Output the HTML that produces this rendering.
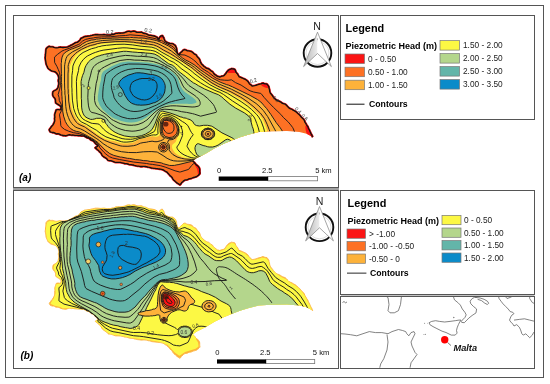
<!DOCTYPE html>
<html><head><meta charset="utf-8"><style>
html,body{margin:0;padding:0;background:#fff;width:550px;height:384px;overflow:hidden}
svg{display:block}
text{font-family:"Liberation Sans",Arial,sans-serif}
</style></head><body>
<svg width="550" height="384" viewBox="0 0 550 384">
<rect width="550" height="384" fill="#fff"/>
<rect x="5.5" y="5.5" width="538" height="372" fill="none" stroke="#555" stroke-width="1"/>
<rect x="13" y="188" width="326" height="2" fill="#a0a0a0"/>
<rect x="340.5" y="15.5" width="194.0" height="104.0" fill="#fff" stroke="#555" stroke-width="1"/>
<text x="345.5" y="32.3" font-size="10.9" font-weight="bold">Legend</text>
<text x="345.5" y="48.6" font-size="9" font-weight="bold">Piezometric Head (m)</text>
<rect x="345" y="54" width="19.5" height="9.5" fill="#fb1414" stroke="#777" stroke-width="0.7"/>
<text x="368" y="61.5" font-size="8.3" fill="#222">0 - 0.50</text>
<rect x="345" y="67.2" width="19.5" height="9.5" fill="#fd7124" stroke="#777" stroke-width="0.7"/>
<text x="368" y="74.7" font-size="8.3" fill="#222">0.50 - 1.00</text>
<rect x="345" y="80.2" width="19.5" height="9.5" fill="#fdb23a" stroke="#777" stroke-width="0.7"/>
<text x="368" y="87.7" font-size="8.3" fill="#222">1.00 - 1.50</text>
<rect x="440" y="40.6" width="19.5" height="9.5" fill="#fcf844" stroke="#777" stroke-width="0.7"/>
<text x="463" y="48.1" font-size="8.3" fill="#222">1.50 - 2.00</text>
<rect x="440" y="53.6" width="19.5" height="9.5" fill="#b4d68c" stroke="#777" stroke-width="0.7"/>
<text x="463" y="61.1" font-size="8.3" fill="#222">2.00 - 2.50</text>
<rect x="440" y="66.6" width="19.5" height="9.5" fill="#63b5a9" stroke="#777" stroke-width="0.7"/>
<text x="463" y="74.1" font-size="8.3" fill="#222">2.50 - 3.00</text>
<rect x="440" y="79.6" width="19.5" height="9.5" fill="#0b8bc9" stroke="#777" stroke-width="0.7"/>
<text x="463" y="87.1" font-size="8.3" fill="#222">3.00 - 3.50</text>
<line x1="346.4" y1="104.2" x2="364.5" y2="104.2" stroke="#111" stroke-width="1"/>
<text x="369" y="107.3" font-size="8.7" font-weight="bold">Contours</text>
<rect x="340.5" y="190.5" width="194.0" height="104.0" fill="#fff" stroke="#555" stroke-width="1"/>
<text x="347.6" y="207.3" font-size="10.9" font-weight="bold">Legend</text>
<text x="347.6" y="223.6" font-size="9" font-weight="bold">Piezometric Head (m)</text>
<rect x="347" y="229" width="18.5" height="9.3" fill="#fb1414" stroke="#777" stroke-width="0.7"/>
<text x="369" y="236.5" font-size="8.3" fill="#222">&gt; -1.00</text>
<rect x="347" y="241.5" width="18.5" height="9.3" fill="#fd7124" stroke="#777" stroke-width="0.7"/>
<text x="369" y="249.0" font-size="8.3" fill="#222">-1.00 - -0.50</text>
<rect x="347" y="254" width="18.5" height="9.3" fill="#fdb23a" stroke="#777" stroke-width="0.7"/>
<text x="369" y="261.5" font-size="8.3" fill="#222">-0.50 - 0</text>
<rect x="442" y="215.4" width="19" height="9.3" fill="#fcf844" stroke="#777" stroke-width="0.7"/>
<text x="464" y="222.9" font-size="8.3" fill="#222">0 - 0.50</text>
<rect x="442" y="228" width="19" height="9.3" fill="#b4d68c" stroke="#777" stroke-width="0.7"/>
<text x="464" y="235.5" font-size="8.3" fill="#222">0.50 - 1.00</text>
<rect x="442" y="240.6" width="19" height="9.3" fill="#63b5a9" stroke="#777" stroke-width="0.7"/>
<text x="464" y="248.1" font-size="8.3" fill="#222">1.00 - 1.50</text>
<rect x="442" y="253" width="19" height="9.3" fill="#0b8bc9" stroke="#777" stroke-width="0.7"/>
<text x="464" y="260.5" font-size="8.3" fill="#222">1.50 - 2.00</text>
<line x1="347" y1="273.2" x2="366.4" y2="273.2" stroke="#777" stroke-width="1.6"/>
<text x="370" y="275.9" font-size="8.7" font-weight="bold">Contours</text>
<rect x="340.5" y="296.5" width="194" height="72" fill="#fff" stroke="#555" stroke-width="1"/>
<rect x="341" y="295" width="193.5" height="1" fill="#c4c4c4"/>
<rect x="13.5" y="15.5" width="325" height="172" fill="#fff" stroke="#555" stroke-width="1"/>
<rect x="13.5" y="190.5" width="325" height="178" fill="#fff" stroke="#555" stroke-width="1"/>
<path d="M192.8,161.0 193.6,161.8 194.4,162.5 195.1,163.4 195.7,164.3 196.5,165.1 197.5,165.7 198.3,166.5 198.9,167.4 199.5,168.4 199.7,169.5 199.7,170.7 199.7,171.8 199.9,172.9 199.8,173.8 199.0,174.6 198.2,175.4 197.3,176.0 196.4,176.7 195.3,177.0 194.2,177.3 193.2,177.5 192.1,178.0 191.1,178.5 190.0,178.6 188.9,178.8 187.9,179.4 186.9,179.8 185.8,179.9 184.7,180.2 183.7,180.8 182.9,181.6 182.0,182.2 181.3,183.1 180.7,184.1 179.9,184.8 178.9,184.1 178.0,183.5 177.0,182.9 176.2,182.2 175.4,181.5 174.6,180.7 173.7,180.0 173.0,179.1 172.5,178.2 171.9,177.2 171.1,176.4 170.2,175.8 169.5,174.9 168.8,174.1 168.0,173.3 167.3,172.4 166.5,171.8 165.5,171.3 164.6,170.7 163.7,170.1 162.7,169.6 161.6,169.3 160.5,169.1 159.4,169.0 158.3,168.9 157.2,168.7 156.1,168.6 155.0,168.4 153.9,168.3 152.8,168.2 151.7,168.1 150.7,167.7 149.6,167.3 148.5,167.2 147.5,167.0 146.4,166.6 145.3,166.5 144.2,166.4 143.1,166.4 142.0,166.5 140.8,166.5 139.8,166.3 138.7,166.2 137.6,166.1 136.5,165.9 135.4,165.6 134.3,165.4 133.3,165.0 132.2,164.8 131.1,164.7 130.0,164.6 128.9,164.4 127.9,164.0 126.8,163.7 125.7,163.6 124.6,163.5 123.5,163.1 122.4,162.9 121.4,162.7 120.3,162.4 119.2,162.4 118.1,162.3 117.0,162.3 115.8,162.3 114.8,162.1 113.7,161.7 112.7,161.3 111.7,160.9 110.6,160.7 109.5,160.6 108.3,160.4 107.5,159.7 106.8,158.7 106.0,158.1 105.0,157.5 104.0,156.9 103.1,156.2 102.3,155.5 101.8,154.5 101.3,153.4 100.6,152.6 99.7,151.9 99.0,151.1 98.3,150.3 97.4,149.7 96.7,148.9 95.7,148.3 95.2,147.8 96.1,147.1 97.1,146.6 98.2,145.8 97.3,144.9 96.4,144.2 95.6,143.6 94.9,142.7 94.2,141.8 93.4,141.0 92.4,140.5 91.3,140.1 90.4,139.5 89.6,138.6 88.7,138.0 87.6,137.9 86.5,137.4 85.6,136.8 84.7,136.3 83.6,135.8 82.5,135.9 81.4,135.8 80.4,135.6 79.3,135.6 78.2,135.5 77.1,135.4 76.0,135.3 74.9,135.3 73.8,135.1 72.7,135.0 71.6,135.1 70.5,134.9 69.4,134.7 68.3,134.9 67.2,135.3 66.1,135.7 65.0,135.7 63.9,135.5 62.9,135.5 62.0,135.2 60.9,134.9 59.9,134.4 58.9,133.9 57.8,133.7 56.6,133.8 55.6,133.5 54.6,132.9 53.5,132.5 52.4,132.5 51.3,132.2 50.3,131.8 49.7,130.9 49.3,129.8 49.8,128.9 50.5,128.1 51.1,127.2 51.7,126.3 52.6,125.5 53.2,124.6 53.7,123.6 54.2,122.6 54.6,121.6 54.8,120.5 54.7,119.3 54.6,118.3 54.9,117.2 54.8,116.1 54.7,115.0 54.9,113.9 55.3,112.8 55.7,111.8 55.9,110.8 56.4,109.8 57.6,109.6 58.7,109.6 59.8,109.8 60.9,109.6 60.9,108.5 61.2,107.6 60.8,106.7 60.2,105.8 59.5,105.3 58.5,104.7 57.6,104.2 56.7,103.5 55.8,102.9 55.6,102.0 55.6,100.9 55.5,99.8 55.2,98.9 54.7,98.0 53.9,97.2 53.3,96.3 52.8,95.2 52.7,94.1 52.8,92.9 53.0,91.8 53.9,91.0 54.9,90.5 55.9,90.0 56.8,89.3 57.5,88.5 58.1,87.5 58.3,86.4 58.5,85.4 58.8,84.4 58.8,83.3 58.7,82.2 58.4,81.1 58.4,80.0 58.8,78.9 58.8,77.8 58.6,76.7 58.3,75.6 57.8,74.7 57.2,73.8 56.5,73.0 55.7,72.2 54.7,71.7 53.7,71.3 52.7,71.1 51.6,70.8 50.6,70.3 49.7,69.5 48.8,69.0 48.0,68.1 47.5,67.1 47.2,66.2 46.7,65.2 46.3,64.2 46.0,63.1 45.9,62.1 45.7,61.0 45.5,59.9 45.4,58.8 45.2,57.7 45.4,56.6 45.5,55.5 45.5,54.4 45.7,53.3 45.8,52.2 45.9,51.1 45.9,50.0 46.2,48.9 46.7,48.1 47.5,47.6 48.4,46.7 49.4,46.5 50.5,46.9 51.6,46.9 52.7,46.9 53.8,47.3 54.8,47.6 55.9,47.8 57.0,47.8 58.1,47.6 59.2,47.3 60.3,47.2 61.4,47.4 62.5,47.5 63.6,47.5 64.7,47.4 65.8,47.3 66.9,47.2 68.0,46.9 69.0,46.3 70.0,45.8 70.9,45.3 72.0,44.8 72.9,44.3 73.9,43.7 74.8,43.1 75.8,42.6 76.9,42.4 77.9,42.0 78.8,41.2 79.6,40.5 80.3,39.6 80.8,38.6 81.8,38.0 82.8,37.6 83.7,37.1 84.7,36.6 85.8,36.5 86.9,36.4 88.0,36.2 89.1,36.1 90.2,35.9 91.2,35.6 92.3,35.4 93.4,35.1 94.5,34.9 95.6,34.7 96.7,34.7 97.8,34.7 98.9,34.8 100.0,34.9 101.1,34.9 102.2,34.8 103.3,34.7 104.4,34.7 105.5,34.9 106.6,35.1 107.7,35.2 108.8,35.1 109.9,35.2 111.0,35.0 112.0,34.5 113.1,34.5 114.2,34.3 115.2,33.6 116.2,33.3 117.4,33.3 118.5,33.1 119.6,33.2 120.7,33.2 121.8,33.1 122.9,33.0 124.0,32.8 125.1,32.5 126.1,32.0 127.1,31.6 128.2,31.4 129.3,31.3 130.3,31.7 131.4,31.7 132.6,31.3 133.7,31.2 134.8,31.4 135.8,31.8 136.9,32.3 138.0,32.4 139.1,32.4 140.2,32.3 141.3,32.2 142.4,32.7 143.4,33.3 144.4,33.5 145.5,33.7 146.6,34.0 147.5,34.6 148.6,35.0 149.6,35.3 150.7,35.4 151.8,35.6 152.9,35.8 154.0,36.0 155.0,36.4 156.0,36.8 157.1,37.3 157.7,38.2 158.3,39.2 159.0,39.4 159.3,38.3 159.8,37.3 160.4,36.4 161.3,35.9 162.4,35.7 163.0,36.7 163.7,37.6 164.0,38.7 164.4,39.7 164.7,40.8 165.5,41.5 166.5,42.1 167.4,42.6 168.5,43.0 169.5,43.4 170.6,43.6 171.8,43.6 172.9,43.8 173.8,44.5 174.7,45.1 175.5,45.9 175.9,46.9 176.4,47.9 176.6,49.0 176.7,50.1 176.9,51.2 177.1,52.3 177.5,53.4 178.2,54.2 178.9,54.7 179.6,53.9 180.3,53.0 181.1,52.3 182.0,51.6 182.7,50.8 183.4,50.1 184.5,49.7 185.5,49.8 186.4,50.4 187.5,50.8 188.6,50.9 189.7,51.1 190.8,51.3 191.8,51.8 192.7,52.5 193.5,53.3 194.3,54.1 195.4,54.5 196.3,55.1 196.8,56.1 197.5,57.0 198.2,57.8 199.0,58.6 199.6,59.6 200.0,60.6 200.3,61.7 200.7,62.7 201.3,63.7 202.1,64.5 202.9,65.3 203.6,66.1 204.5,66.8 205.4,67.4 206.3,68.1 207.3,68.5 208.4,68.7 209.3,69.4 210.1,70.1 210.9,70.8 211.9,71.3 212.8,72.0 213.4,73.0 214.0,73.9 214.9,74.6 215.9,75.2 216.7,75.9 217.6,76.5 218.7,76.7 219.7,77.0 220.8,76.6 221.8,76.2 222.9,76.1 223.9,75.7 224.6,75.1 225.2,74.2 226.0,73.4 226.5,72.4 227.2,71.5 227.9,70.8 228.6,70.0 229.6,69.5 230.7,69.1 231.6,68.7 232.6,68.9 233.7,69.0 234.7,69.3 235.3,70.3 235.6,71.4 236.1,72.4 236.8,73.2 237.6,74.1 238.1,75.1 238.6,76.0 239.2,76.9 240.1,77.2 241.2,77.6 242.2,78.0 243.2,78.5 244.2,78.9 245.2,79.4 246.2,80.0 247.1,80.7 247.9,81.4 248.5,82.3 249.1,83.4 249.8,84.2 250.7,84.8 251.5,85.6 252.4,86.1 253.6,85.9 254.7,85.7 255.7,85.4 256.8,85.0 257.8,84.7 258.8,84.3 259.9,84.1 261.0,83.9 262.0,83.3 263.0,83.1 264.0,83.5 265.1,83.9 266.2,83.9 267.2,84.3 267.8,85.2 268.5,86.1 268.9,87.1 269.0,88.2 269.4,89.2 269.6,90.3 269.7,91.4 270.1,92.5 270.5,93.4 271.2,94.1 271.9,95.0 272.6,95.9 273.1,96.8 273.8,97.7 274.6,98.5 275.4,99.2 276.3,99.9 277.2,100.5 278.3,100.9 279.3,101.3 280.3,101.8 281.2,102.4 282.1,103.1 283.1,103.5 284.2,103.8 285.2,104.2 286.1,104.9 286.9,105.7 287.5,106.6 288.3,107.3 289.1,108.1 290.1,108.7 291.2,109.0 292.2,109.5 293.1,110.2 294.1,110.7 295.0,111.2 296.0,111.8 296.8,112.5 297.6,113.3 298.4,114.0 299.3,114.7 300.0,115.5 300.7,116.4 301.4,117.3 302.2,118.0 303.0,118.7 303.8,119.6 304.3,120.5 304.7,121.6 305.2,122.6 305.9,123.5 306.3,124.5 306.9,125.4 307.6,126.3 308.1,127.3 308.4,128.4 309.0,129.3 309.5,130.3 309.9,131.3 310.4,132.3 310.8,133.3 311.4,134.3 311.9,135.2 312.3,136.3 312.7,137.3" fill="none" stroke="#fb1414" stroke-width="2.3" stroke-linejoin="round"/>
<clipPath id="clipA"><path d="M192.8,161.0 193.6,161.8 194.4,162.5 195.1,163.4 195.7,164.3 196.5,165.1 197.5,165.7 198.3,166.5 198.9,167.4 199.5,168.4 199.7,169.5 199.7,170.7 199.7,171.8 199.9,172.9 199.8,173.8 199.0,174.6 198.2,175.4 197.3,176.0 196.4,176.7 195.3,177.0 194.2,177.3 193.2,177.5 192.1,178.0 191.1,178.5 190.0,178.6 188.9,178.8 187.9,179.4 186.9,179.8 185.8,179.9 184.7,180.2 183.7,180.8 182.9,181.6 182.0,182.2 181.3,183.1 180.7,184.1 179.9,184.8 178.9,184.1 178.0,183.5 177.0,182.9 176.2,182.2 175.4,181.5 174.6,180.7 173.7,180.0 173.0,179.1 172.5,178.2 171.9,177.2 171.1,176.4 170.2,175.8 169.5,174.9 168.8,174.1 168.0,173.3 167.3,172.4 166.5,171.8 165.5,171.3 164.6,170.7 163.7,170.1 162.7,169.6 161.6,169.3 160.5,169.1 159.4,169.0 158.3,168.9 157.2,168.7 156.1,168.6 155.0,168.4 153.9,168.3 152.8,168.2 151.7,168.1 150.7,167.7 149.6,167.3 148.5,167.2 147.5,167.0 146.4,166.6 145.3,166.5 144.2,166.4 143.1,166.4 142.0,166.5 140.8,166.5 139.8,166.3 138.7,166.2 137.6,166.1 136.5,165.9 135.4,165.6 134.3,165.4 133.3,165.0 132.2,164.8 131.1,164.7 130.0,164.6 128.9,164.4 127.9,164.0 126.8,163.7 125.7,163.6 124.6,163.5 123.5,163.1 122.4,162.9 121.4,162.7 120.3,162.4 119.2,162.4 118.1,162.3 117.0,162.3 115.8,162.3 114.8,162.1 113.7,161.7 112.7,161.3 111.7,160.9 110.6,160.7 109.5,160.6 108.3,160.4 107.5,159.7 106.8,158.7 106.0,158.1 105.0,157.5 104.0,156.9 103.1,156.2 102.3,155.5 101.8,154.5 101.3,153.4 100.6,152.6 99.7,151.9 99.0,151.1 98.3,150.3 97.4,149.7 96.7,148.9 95.7,148.3 95.2,147.8 96.1,147.1 97.1,146.6 98.2,145.8 97.3,144.9 96.4,144.2 95.6,143.6 94.9,142.7 94.2,141.8 93.4,141.0 92.4,140.5 91.3,140.1 90.4,139.5 89.6,138.6 88.7,138.0 87.6,137.9 86.5,137.4 85.6,136.8 84.7,136.3 83.6,135.8 82.5,135.9 81.4,135.8 80.4,135.6 79.3,135.6 78.2,135.5 77.1,135.4 76.0,135.3 74.9,135.3 73.8,135.1 72.7,135.0 71.6,135.1 70.5,134.9 69.4,134.7 68.3,134.9 67.2,135.3 66.1,135.7 65.0,135.7 63.9,135.5 62.9,135.5 62.0,135.2 60.9,134.9 59.9,134.4 58.9,133.9 57.8,133.7 56.6,133.8 55.6,133.5 54.6,132.9 53.5,132.5 52.4,132.5 51.3,132.2 50.3,131.8 49.7,130.9 49.3,129.8 49.8,128.9 50.5,128.1 51.1,127.2 51.7,126.3 52.6,125.5 53.2,124.6 53.7,123.6 54.2,122.6 54.6,121.6 54.8,120.5 54.7,119.3 54.6,118.3 54.9,117.2 54.8,116.1 54.7,115.0 54.9,113.9 55.3,112.8 55.7,111.8 55.9,110.8 56.4,109.8 57.6,109.6 58.7,109.6 59.8,109.8 60.9,109.6 60.9,108.5 61.2,107.6 60.8,106.7 60.2,105.8 59.5,105.3 58.5,104.7 57.6,104.2 56.7,103.5 55.8,102.9 55.6,102.0 55.6,100.9 55.5,99.8 55.2,98.9 54.7,98.0 53.9,97.2 53.3,96.3 52.8,95.2 52.7,94.1 52.8,92.9 53.0,91.8 53.9,91.0 54.9,90.5 55.9,90.0 56.8,89.3 57.5,88.5 58.1,87.5 58.3,86.4 58.5,85.4 58.8,84.4 58.8,83.3 58.7,82.2 58.4,81.1 58.4,80.0 58.8,78.9 58.8,77.8 58.6,76.7 58.3,75.6 57.8,74.7 57.2,73.8 56.5,73.0 55.7,72.2 54.7,71.7 53.7,71.3 52.7,71.1 51.6,70.8 50.6,70.3 49.7,69.5 48.8,69.0 48.0,68.1 47.5,67.1 47.2,66.2 46.7,65.2 46.3,64.2 46.0,63.1 45.9,62.1 45.7,61.0 45.5,59.9 45.4,58.8 45.2,57.7 45.4,56.6 45.5,55.5 45.5,54.4 45.7,53.3 45.8,52.2 45.9,51.1 45.9,50.0 46.2,48.9 46.7,48.1 47.5,47.6 48.4,46.7 49.4,46.5 50.5,46.9 51.6,46.9 52.7,46.9 53.8,47.3 54.8,47.6 55.9,47.8 57.0,47.8 58.1,47.6 59.2,47.3 60.3,47.2 61.4,47.4 62.5,47.5 63.6,47.5 64.7,47.4 65.8,47.3 66.9,47.2 68.0,46.9 69.0,46.3 70.0,45.8 70.9,45.3 72.0,44.8 72.9,44.3 73.9,43.7 74.8,43.1 75.8,42.6 76.9,42.4 77.9,42.0 78.8,41.2 79.6,40.5 80.3,39.6 80.8,38.6 81.8,38.0 82.8,37.6 83.7,37.1 84.7,36.6 85.8,36.5 86.9,36.4 88.0,36.2 89.1,36.1 90.2,35.9 91.2,35.6 92.3,35.4 93.4,35.1 94.5,34.9 95.6,34.7 96.7,34.7 97.8,34.7 98.9,34.8 100.0,34.9 101.1,34.9 102.2,34.8 103.3,34.7 104.4,34.7 105.5,34.9 106.6,35.1 107.7,35.2 108.8,35.1 109.9,35.2 111.0,35.0 112.0,34.5 113.1,34.5 114.2,34.3 115.2,33.6 116.2,33.3 117.4,33.3 118.5,33.1 119.6,33.2 120.7,33.2 121.8,33.1 122.9,33.0 124.0,32.8 125.1,32.5 126.1,32.0 127.1,31.6 128.2,31.4 129.3,31.3 130.3,31.7 131.4,31.7 132.6,31.3 133.7,31.2 134.8,31.4 135.8,31.8 136.9,32.3 138.0,32.4 139.1,32.4 140.2,32.3 141.3,32.2 142.4,32.7 143.4,33.3 144.4,33.5 145.5,33.7 146.6,34.0 147.5,34.6 148.6,35.0 149.6,35.3 150.7,35.4 151.8,35.6 152.9,35.8 154.0,36.0 155.0,36.4 156.0,36.8 157.1,37.3 157.7,38.2 158.3,39.2 159.0,39.4 159.3,38.3 159.8,37.3 160.4,36.4 161.3,35.9 162.4,35.7 163.0,36.7 163.7,37.6 164.0,38.7 164.4,39.7 164.7,40.8 165.5,41.5 166.5,42.1 167.4,42.6 168.5,43.0 169.5,43.4 170.6,43.6 171.8,43.6 172.9,43.8 173.8,44.5 174.7,45.1 175.5,45.9 175.9,46.9 176.4,47.9 176.6,49.0 176.7,50.1 176.9,51.2 177.1,52.3 177.5,53.4 178.2,54.2 178.9,54.7 179.6,53.9 180.3,53.0 181.1,52.3 182.0,51.6 182.7,50.8 183.4,50.1 184.5,49.7 185.5,49.8 186.4,50.4 187.5,50.8 188.6,50.9 189.7,51.1 190.8,51.3 191.8,51.8 192.7,52.5 193.5,53.3 194.3,54.1 195.4,54.5 196.3,55.1 196.8,56.1 197.5,57.0 198.2,57.8 199.0,58.6 199.6,59.6 200.0,60.6 200.3,61.7 200.7,62.7 201.3,63.7 202.1,64.5 202.9,65.3 203.6,66.1 204.5,66.8 205.4,67.4 206.3,68.1 207.3,68.5 208.4,68.7 209.3,69.4 210.1,70.1 210.9,70.8 211.9,71.3 212.8,72.0 213.4,73.0 214.0,73.9 214.9,74.6 215.9,75.2 216.7,75.9 217.6,76.5 218.7,76.7 219.7,77.0 220.8,76.6 221.8,76.2 222.9,76.1 223.9,75.7 224.6,75.1 225.2,74.2 226.0,73.4 226.5,72.4 227.2,71.5 227.9,70.8 228.6,70.0 229.6,69.5 230.7,69.1 231.6,68.7 232.6,68.9 233.7,69.0 234.7,69.3 235.3,70.3 235.6,71.4 236.1,72.4 236.8,73.2 237.6,74.1 238.1,75.1 238.6,76.0 239.2,76.9 240.1,77.2 241.2,77.6 242.2,78.0 243.2,78.5 244.2,78.9 245.2,79.4 246.2,80.0 247.1,80.7 247.9,81.4 248.5,82.3 249.1,83.4 249.8,84.2 250.7,84.8 251.5,85.6 252.4,86.1 253.6,85.9 254.7,85.7 255.7,85.4 256.8,85.0 257.8,84.7 258.8,84.3 259.9,84.1 261.0,83.9 262.0,83.3 263.0,83.1 264.0,83.5 265.1,83.9 266.2,83.9 267.2,84.3 267.8,85.2 268.5,86.1 268.9,87.1 269.0,88.2 269.4,89.2 269.6,90.3 269.7,91.4 270.1,92.5 270.5,93.4 271.2,94.1 271.9,95.0 272.6,95.9 273.1,96.8 273.8,97.7 274.6,98.5 275.4,99.2 276.3,99.9 277.2,100.5 278.3,100.9 279.3,101.3 280.3,101.8 281.2,102.4 282.1,103.1 283.1,103.5 284.2,103.8 285.2,104.2 286.1,104.9 286.9,105.7 287.5,106.6 288.3,107.3 289.1,108.1 290.1,108.7 291.2,109.0 292.2,109.5 293.1,110.2 294.1,110.7 295.0,111.2 296.0,111.8 296.8,112.5 297.6,113.3 298.4,114.0 299.3,114.7 300.0,115.5 300.7,116.4 301.4,117.3 302.2,118.0 303.0,118.7 303.8,119.6 304.3,120.5 304.7,121.6 305.2,122.6 305.9,123.5 306.3,124.5 306.9,125.4 307.6,126.3 308.1,127.3 308.4,128.4 309.0,129.3 309.5,130.3 309.9,131.3 310.4,132.3 310.8,133.3 311.4,134.3 311.9,135.2 312.3,136.3 312.7,137.3 309.0,135.0 305.6,133.4 299.4,131.9 287.0,131.0 271.0,131.2 258.8,132.0 249.0,134.5 240.0,137.3 232.9,140.0 223.8,143.7 214.6,148.2 205.5,153.7 196.4,158.3Z"/></clipPath><g clip-path="url(#clipA)">
<path d="M192.8,161.0 193.6,161.8 194.4,162.5 195.1,163.4 195.7,164.3 196.5,165.1 197.5,165.7 198.3,166.5 198.9,167.4 199.5,168.4 199.7,169.5 199.7,170.7 199.7,171.8 199.9,172.9 199.8,173.8 199.0,174.6 198.2,175.4 197.3,176.0 196.4,176.7 195.3,177.0 194.2,177.3 193.2,177.5 192.1,178.0 191.1,178.5 190.0,178.6 188.9,178.8 187.9,179.4 186.9,179.8 185.8,179.9 184.7,180.2 183.7,180.8 182.9,181.6 182.0,182.2 181.3,183.1 180.7,184.1 179.9,184.8 178.9,184.1 178.0,183.5 177.0,182.9 176.2,182.2 175.4,181.5 174.6,180.7 173.7,180.0 173.0,179.1 172.5,178.2 171.9,177.2 171.1,176.4 170.2,175.8 169.5,174.9 168.8,174.1 168.0,173.3 167.3,172.4 166.5,171.8 165.5,171.3 164.6,170.7 163.7,170.1 162.7,169.6 161.6,169.3 160.5,169.1 159.4,169.0 158.3,168.9 157.2,168.7 156.1,168.6 155.0,168.4 153.9,168.3 152.8,168.2 151.7,168.1 150.7,167.7 149.6,167.3 148.5,167.2 147.5,167.0 146.4,166.6 145.3,166.5 144.2,166.4 143.1,166.4 142.0,166.5 140.8,166.5 139.8,166.3 138.7,166.2 137.6,166.1 136.5,165.9 135.4,165.6 134.3,165.4 133.3,165.0 132.2,164.8 131.1,164.7 130.0,164.6 128.9,164.4 127.9,164.0 126.8,163.7 125.7,163.6 124.6,163.5 123.5,163.1 122.4,162.9 121.4,162.7 120.3,162.4 119.2,162.4 118.1,162.3 117.0,162.3 115.8,162.3 114.8,162.1 113.7,161.7 112.7,161.3 111.7,160.9 110.6,160.7 109.5,160.6 108.3,160.4 107.5,159.7 106.8,158.7 106.0,158.1 105.0,157.5 104.0,156.9 103.1,156.2 102.3,155.5 101.8,154.5 101.3,153.4 100.6,152.6 99.7,151.9 99.0,151.1 98.3,150.3 97.4,149.7 96.7,148.9 95.7,148.3 95.2,147.8 96.1,147.1 97.1,146.6 98.2,145.8 97.3,144.9 96.4,144.2 95.6,143.6 94.9,142.7 94.2,141.8 93.4,141.0 92.4,140.5 91.3,140.1 90.4,139.5 89.6,138.6 88.7,138.0 87.6,137.9 86.5,137.4 85.6,136.8 84.7,136.3 83.6,135.8 82.5,135.9 81.4,135.8 80.4,135.6 79.3,135.6 78.2,135.5 77.1,135.4 76.0,135.3 74.9,135.3 73.8,135.1 72.7,135.0 71.6,135.1 70.5,134.9 69.4,134.7 68.3,134.9 67.2,135.3 66.1,135.7 65.0,135.7 63.9,135.5 62.9,135.5 62.0,135.2 60.9,134.9 59.9,134.4 58.9,133.9 57.8,133.7 56.6,133.8 55.6,133.5 54.6,132.9 53.5,132.5 52.4,132.5 51.3,132.2 50.3,131.8 49.7,130.9 49.3,129.8 49.8,128.9 50.5,128.1 51.1,127.2 51.7,126.3 52.6,125.5 53.2,124.6 53.7,123.6 54.2,122.6 54.6,121.6 54.8,120.5 54.7,119.3 54.6,118.3 54.9,117.2 54.8,116.1 54.7,115.0 54.9,113.9 55.3,112.8 55.7,111.8 55.9,110.8 56.4,109.8 57.6,109.6 58.7,109.6 59.8,109.8 60.9,109.6 60.9,108.5 61.2,107.6 60.8,106.7 60.2,105.8 59.5,105.3 58.5,104.7 57.6,104.2 56.7,103.5 55.8,102.9 55.6,102.0 55.6,100.9 55.5,99.8 55.2,98.9 54.7,98.0 53.9,97.2 53.3,96.3 52.8,95.2 52.7,94.1 52.8,92.9 53.0,91.8 53.9,91.0 54.9,90.5 55.9,90.0 56.8,89.3 57.5,88.5 58.1,87.5 58.3,86.4 58.5,85.4 58.8,84.4 58.8,83.3 58.7,82.2 58.4,81.1 58.4,80.0 58.8,78.9 58.8,77.8 58.6,76.7 58.3,75.6 57.8,74.7 57.2,73.8 56.5,73.0 55.7,72.2 54.7,71.7 53.7,71.3 52.7,71.1 51.6,70.8 50.6,70.3 49.7,69.5 48.8,69.0 48.0,68.1 47.5,67.1 47.2,66.2 46.7,65.2 46.3,64.2 46.0,63.1 45.9,62.1 45.7,61.0 45.5,59.9 45.4,58.8 45.2,57.7 45.4,56.6 45.5,55.5 45.5,54.4 45.7,53.3 45.8,52.2 45.9,51.1 45.9,50.0 46.2,48.9 46.7,48.1 47.5,47.6 48.4,46.7 49.4,46.5 50.5,46.9 51.6,46.9 52.7,46.9 53.8,47.3 54.8,47.6 55.9,47.8 57.0,47.8 58.1,47.6 59.2,47.3 60.3,47.2 61.4,47.4 62.5,47.5 63.6,47.5 64.7,47.4 65.8,47.3 66.9,47.2 68.0,46.9 69.0,46.3 70.0,45.8 70.9,45.3 72.0,44.8 72.9,44.3 73.9,43.7 74.8,43.1 75.8,42.6 76.9,42.4 77.9,42.0 78.8,41.2 79.6,40.5 80.3,39.6 80.8,38.6 81.8,38.0 82.8,37.6 83.7,37.1 84.7,36.6 85.8,36.5 86.9,36.4 88.0,36.2 89.1,36.1 90.2,35.9 91.2,35.6 92.3,35.4 93.4,35.1 94.5,34.9 95.6,34.7 96.7,34.7 97.8,34.7 98.9,34.8 100.0,34.9 101.1,34.9 102.2,34.8 103.3,34.7 104.4,34.7 105.5,34.9 106.6,35.1 107.7,35.2 108.8,35.1 109.9,35.2 111.0,35.0 112.0,34.5 113.1,34.5 114.2,34.3 115.2,33.6 116.2,33.3 117.4,33.3 118.5,33.1 119.6,33.2 120.7,33.2 121.8,33.1 122.9,33.0 124.0,32.8 125.1,32.5 126.1,32.0 127.1,31.6 128.2,31.4 129.3,31.3 130.3,31.7 131.4,31.7 132.6,31.3 133.7,31.2 134.8,31.4 135.8,31.8 136.9,32.3 138.0,32.4 139.1,32.4 140.2,32.3 141.3,32.2 142.4,32.7 143.4,33.3 144.4,33.5 145.5,33.7 146.6,34.0 147.5,34.6 148.6,35.0 149.6,35.3 150.7,35.4 151.8,35.6 152.9,35.8 154.0,36.0 155.0,36.4 156.0,36.8 157.1,37.3 157.7,38.2 158.3,39.2 159.0,39.4 159.3,38.3 159.8,37.3 160.4,36.4 161.3,35.9 162.4,35.7 163.0,36.7 163.7,37.6 164.0,38.7 164.4,39.7 164.7,40.8 165.5,41.5 166.5,42.1 167.4,42.6 168.5,43.0 169.5,43.4 170.6,43.6 171.8,43.6 172.9,43.8 173.8,44.5 174.7,45.1 175.5,45.9 175.9,46.9 176.4,47.9 176.6,49.0 176.7,50.1 176.9,51.2 177.1,52.3 177.5,53.4 178.2,54.2 178.9,54.7 179.6,53.9 180.3,53.0 181.1,52.3 182.0,51.6 182.7,50.8 183.4,50.1 184.5,49.7 185.5,49.8 186.4,50.4 187.5,50.8 188.6,50.9 189.7,51.1 190.8,51.3 191.8,51.8 192.7,52.5 193.5,53.3 194.3,54.1 195.4,54.5 196.3,55.1 196.8,56.1 197.5,57.0 198.2,57.8 199.0,58.6 199.6,59.6 200.0,60.6 200.3,61.7 200.7,62.7 201.3,63.7 202.1,64.5 202.9,65.3 203.6,66.1 204.5,66.8 205.4,67.4 206.3,68.1 207.3,68.5 208.4,68.7 209.3,69.4 210.1,70.1 210.9,70.8 211.9,71.3 212.8,72.0 213.4,73.0 214.0,73.9 214.9,74.6 215.9,75.2 216.7,75.9 217.6,76.5 218.7,76.7 219.7,77.0 220.8,76.6 221.8,76.2 222.9,76.1 223.9,75.7 224.6,75.1 225.2,74.2 226.0,73.4 226.5,72.4 227.2,71.5 227.9,70.8 228.6,70.0 229.6,69.5 230.7,69.1 231.6,68.7 232.6,68.9 233.7,69.0 234.7,69.3 235.3,70.3 235.6,71.4 236.1,72.4 236.8,73.2 237.6,74.1 238.1,75.1 238.6,76.0 239.2,76.9 240.1,77.2 241.2,77.6 242.2,78.0 243.2,78.5 244.2,78.9 245.2,79.4 246.2,80.0 247.1,80.7 247.9,81.4 248.5,82.3 249.1,83.4 249.8,84.2 250.7,84.8 251.5,85.6 252.4,86.1 253.6,85.9 254.7,85.7 255.7,85.4 256.8,85.0 257.8,84.7 258.8,84.3 259.9,84.1 261.0,83.9 262.0,83.3 263.0,83.1 264.0,83.5 265.1,83.9 266.2,83.9 267.2,84.3 267.8,85.2 268.5,86.1 268.9,87.1 269.0,88.2 269.4,89.2 269.6,90.3 269.7,91.4 270.1,92.5 270.5,93.4 271.2,94.1 271.9,95.0 272.6,95.9 273.1,96.8 273.8,97.7 274.6,98.5 275.4,99.2 276.3,99.9 277.2,100.5 278.3,100.9 279.3,101.3 280.3,101.8 281.2,102.4 282.1,103.1 283.1,103.5 284.2,103.8 285.2,104.2 286.1,104.9 286.9,105.7 287.5,106.6 288.3,107.3 289.1,108.1 290.1,108.7 291.2,109.0 292.2,109.5 293.1,110.2 294.1,110.7 295.0,111.2 296.0,111.8 296.8,112.5 297.6,113.3 298.4,114.0 299.3,114.7 300.0,115.5 300.7,116.4 301.4,117.3 302.2,118.0 303.0,118.7 303.8,119.6 304.3,120.5 304.7,121.6 305.2,122.6 305.9,123.5 306.3,124.5 306.9,125.4 307.6,126.3 308.1,127.3 308.4,128.4 309.0,129.3 309.5,130.3 309.9,131.3 310.4,132.3 310.8,133.3 311.4,134.3 311.9,135.2 312.3,136.3 312.7,137.3 316.0,146.0 311.0,158.0 295.0,166.0 270.0,170.0 245.0,170.0 222.0,168.0 205.0,166.0Z" fill="#fd7124"/>
<path d="M174.6,165.4 169.4,165.4 163.6,163.8 161.4,162.9 153.1,161.6 150.4,161.5 147.4,160.8 135.4,159.6 129.4,158.4 127.4,158.3 121.6,157.1 120.4,157.1 113.8,155.4 109.8,153.6 105.2,150.1 98.1,142.7 95.6,140.8 91.4,138.1 82.4,133.3 79.4,132.0 76.4,131.4 73.5,130.4 70.6,128.6 68.6,126.6 66.8,124.1 65.4,121.6 63.6,116.1 62.7,111.1 62.3,100.9 61.8,95.1 61.7,84.6 61.4,82.6 61.4,76.6 61.6,74.9 61.4,73.4 61.2,63.6 61.5,60.1 62.1,57.1 63.2,54.6 64.4,53.1 66.8,51.4 69.2,50.1 80.1,45.8 82.4,43.9 86.6,41.5 91.2,40.1 94.1,39.8 96.4,39.1 106.1,38.3 132.1,37.5 144.9,38.3 148.1,39.0 149.9,39.1 156.6,40.6 161.4,42.4 164.4,43.9 168.7,46.1 171.9,48.2 173.4,49.4 178.4,54.8 180.9,56.6 182.6,58.1 194.1,64.7 200.8,70.1 212.6,78.2 220.1,82.1 228.4,85.1 242.1,91.5 250.1,95.4 259.0,100.6 262.0,103.1 266.6,108.5 271.0,114.6 276.2,122.6 280.3,127.9 283.5,132.9 285.0,140.1 285.3,142.4 285.2,145.9 284.2,148.1 282.4,150.0 278.4,151.7 267.9,154.1 249.9,156.4 243.6,156.9 220.9,157.7 214.9,158.4 211.4,158.4 206.6,159.1 204.1,159.2 191.6,161.4 174.6,165.4ZM170.1,137.4 172.6,137.0 174.9,135.5 176.6,133.4 177.3,131.1 177.4,129.1 176.6,126.1 175.6,124.1 173.9,122.4 171.0,120.6 167.9,119.7 165.9,119.7 164.4,120.0 163.4,120.6 163.1,121.1 162.2,124.4 162.3,131.1 162.9,133.2 163.5,134.6 165.4,136.5 169.1,137.6 170.1,137.4ZM164.6,150.4 165.6,149.7 166.5,148.6 166.8,147.4 166.5,145.9 165.9,144.9 164.6,144.0 163.4,143.8 162.1,144.1 160.9,144.9 160.3,145.9 160.0,147.1 160.2,148.4 160.9,149.4 161.9,150.2 163.1,150.6 164.6,150.4Z" fill="#fdb23a" fill-rule="evenodd"/>
<path d="M196.1,158.6 194.1,158.9 190.4,158.8 185.4,158.1 182.1,157.1 177.9,155.1 175.1,152.9 173.6,150.9 172.1,147.9 172.1,145.4 172.6,144.6 175.6,141.9 177.6,136.9 178.6,135.1 178.9,133.1 179.1,132.9 179.1,129.1 178.9,128.9 178.9,127.4 178.6,127.1 178.6,126.6 176.1,122.1 173.9,119.9 170.4,117.7 169.1,117.2 167.4,116.8 164.0,116.9 162.0,117.9 160.6,119.6 159.9,121.4 159.3,123.6 159.3,129.6 159.9,132.9 159.9,134.4 159.6,134.9 158.6,135.9 155.9,136.9 153.1,136.3 151.9,136.2 147.1,137.3 145.6,138.0 142.0,138.6 138.6,139.6 135.1,141.7 132.4,142.8 127.1,143.6 123.1,143.6 120.9,143.3 113.8,141.1 111.4,140.7 105.1,138.9 100.6,136.5 97.6,134.5 85.6,125.6 81.2,123.6 79.1,122.3 78.1,121.2 75.3,117.1 73.4,113.3 71.8,109.1 70.3,100.9 70.0,94.4 69.8,93.1 69.8,89.4 69.6,88.1 69.6,74.1 70.1,70.1 69.8,67.4 70.1,65.4 71.5,61.9 73.3,58.4 75.9,54.9 78.4,52.7 82.1,50.3 88.1,47.7 90.9,46.7 94.9,45.8 98.1,44.6 103.4,43.6 115.4,42.6 124.6,42.6 133.1,43.3 141.6,44.7 152.4,45.8 153.4,46.1 157.6,47.8 162.4,51.1 170.1,55.0 181.1,61.5 190.1,67.7 201.9,77.1 211.4,84.0 220.1,88.6 225.9,90.9 230.2,92.9 242.1,99.9 248.9,105.0 252.5,108.1 258.9,114.2 262.6,119.1 265.4,125.6 266.9,130.1 267.5,133.4 266.7,140.4 265.6,145.3 264.0,147.9 262.1,150.0 259.1,151.0 255.6,151.6 244.9,151.6 243.6,151.9 236.6,152.2 219.1,154.3 214.9,155.2 210.9,155.8 200.1,158.2 196.1,158.6ZM209.4,139.4 211.9,138.4 213.6,136.6 214.4,134.6 214.1,132.1 213.6,131.1 212.9,130.4 210.9,128.9 209.4,128.6 209.1,128.4 207.9,128.4 206.9,128.4 206.6,128.6 205.1,128.9 203.1,130.4 202.4,131.1 201.9,132.1 201.6,133.9 201.9,135.6 202.4,136.6 204.6,138.6 206.6,139.4 209.4,139.4Z" fill="#fcf844" fill-rule="evenodd"/>
<path d="M245.1,140.9 238.6,141.0 236.6,140.7 231.9,137.7 221.9,132.8 212.9,126.8 211.5,126.1 207.6,125.3 203.6,125.3 199.6,126.0 196.6,125.6 195.1,124.9 194.1,123.9 192.8,121.6 190.0,119.6 186.4,118.3 183.6,117.9 182.1,117.2 180.1,116.8 175.9,115.0 170.1,113.0 162.6,111.1 160.7,111.6 159.7,112.6 157.0,118.4 154.1,125.7 152.1,129.4 149.9,131.5 145.6,134.1 141.4,135.7 135.4,136.8 131.1,136.9 124.3,135.9 118.9,134.1 112.9,130.9 109.9,128.5 108.0,126.4 105.7,123.4 104.4,120.2 102.5,118.9 100.6,118.3 96.6,118.3 92.4,119.4 90.6,119.4 87.1,117.9 84.9,116.4 83.9,115.0 82.9,113.0 82.1,110.4 81.6,107.1 81.1,81.6 81.7,78.4 82.6,75.4 83.9,72.4 84.9,68.1 86.0,65.6 88.3,62.1 90.4,60.1 95.4,57.2 99.9,55.7 101.1,55.1 110.1,53.3 123.4,51.3 126.4,51.3 137.9,52.5 142.1,52.5 149.9,53.3 152.1,53.6 154.9,54.2 158.9,56.4 161.6,58.6 168.4,63.6 169.9,64.3 172.1,65.0 173.8,66.1 178.9,71.6 185.7,76.6 190.9,81.0 193.6,83.0 204.4,88.9 213.9,93.0 218.4,94.7 221.7,96.9 229.9,104.2 235.6,108.1 244.4,112.9 248.1,115.6 250.6,118.9 251.3,122.9 253.7,131.4 254.0,133.1 254.0,136.9 252.9,139.1 252.1,139.9 250.1,140.5 245.1,140.9ZM201.6,156.4 200.1,156.5 199.2,156.4 197.6,155.4 196.6,154.0 195.6,151.6 195.0,149.1 195.0,147.6 195.8,145.1 197.1,143.9 198.4,143.7 203.1,145.5 205.4,146.0 207.4,146.7 209.1,147.0 212.6,147.0 215.1,146.4 218.1,145.1 225.6,139.8 227.4,139.2 229.2,139.6 231.1,141.3 232.1,142.6 232.4,143.9 231.9,144.9 227.8,147.1 221.9,149.4 217.9,150.5 204.8,155.6 201.6,156.4Z" fill="#b4d68c" fill-rule="evenodd"/>
<path d="M131.6,122.4 129.6,122.5 126.6,122.2 121.3,121.1 114.1,118.5 112.6,117.7 108.0,114.4 102.5,109.6 99.6,104.9 97.8,99.9 97.8,96.6 98.6,91.1 99.8,84.4 101.0,79.9 101.3,76.1 101.8,73.9 102.6,72.4 103.3,71.4 104.6,70.4 112.1,65.9 120.6,62.6 127.6,61.5 148.1,62.6 155.8,63.9 158.4,64.7 164.6,67.3 170.4,70.7 173.5,73.1 175.5,75.1 177.3,77.4 178.1,79.0 180.6,85.9 182.9,89.9 184.9,91.9 192.8,97.4 195.1,99.4 196.4,101.4 196.6,102.1 196.1,102.7 193.9,103.6 191.9,103.9 188.9,103.9 187.4,103.7 175.9,103.7 169.9,104.2 166.4,105.1 160.9,107.2 157.4,109.2 153.5,111.9 145.6,118.1 144.1,118.7 141.9,120.0 137.1,121.7 134.4,122.2 131.6,122.4Z" fill="#63b5a9" fill-rule="evenodd"/>
<path d="M142.9,105.1 140.4,105.2 137.4,105.0 133.1,103.9 130.0,102.1 128.1,100.2 125.1,95.6 122.6,89.9 119.6,86.1 118.8,84.4 118.9,83.1 119.4,81.9 121.4,79.4 123.1,77.9 128.4,75.1 134.6,73.2 136.4,72.8 140.1,72.8 143.1,73.1 150.6,74.5 152.4,74.5 156.1,75.4 160.1,77.4 161.7,78.6 163.1,80.4 164.6,83.4 165.2,85.6 165.2,88.4 164.9,90.9 164.3,93.1 162.6,96.5 161.2,98.4 158.4,100.7 154.9,102.6 153.9,102.7 148.9,104.4 145.9,104.9 142.9,105.1Z" fill="#0b8bc9" fill-rule="evenodd"/>
<path d="M226.5,72.0 226.4,71.8 226.6,71.6 227.0,71.3 227.3,71.0 227.6,70.5 228.1,70.0 228.5,69.4 229.0,69.0 229.5,68.7 230.1,68.5 230.6,68.3 231.3,68.3 232.1,68.3 233.0,68.4 233.8,68.7 234.5,69.0 235.0,69.5 235.4,70.2 235.7,70.9 236.0,71.5 236.3,72.0 236.6,72.4 236.7,72.8 236.5,73.0 235.9,73.1 235.0,73.1 234.0,73.0 233.0,73.0 232.0,73.0 230.9,73.1 229.9,73.1 229.0,73.0 228.2,72.8 227.5,72.6 226.9,72.3Z" fill="#fb1414"/>
<path d="M261.5,85.5 261.4,84.9 261.6,84.3 262.0,83.7 262.5,83.3 263.0,83.0 263.7,82.8 264.4,82.8 265.0,82.8 265.5,83.0 266.1,83.2 266.5,83.6 267.0,84.0 267.4,84.6 267.9,85.2 268.2,85.9 268.5,86.5 268.7,87.0 268.8,87.4 268.8,87.8 268.5,88.0 267.9,88.1 267.0,88.0 266.0,87.8 265.0,87.5 264.0,87.1 263.0,86.6 262.1,86.0Z" fill="#fb1414"/>
<path d="M305.5,126.0 305.7,125.4 306.1,125.1 306.6,125.1 307.2,125.6 307.9,126.7 308.7,128.4 309.5,130.2 310.3,131.9 311.1,133.5 312.0,135.1 312.6,136.5 312.7,137.3 312.1,137.4 310.9,137.0 309.6,136.3 308.5,135.5 307.7,134.7 307.0,133.7 306.4,132.7 306.0,131.5 305.7,130.1 305.5,128.5 305.4,127.1Z" fill="#fb1414"/>
<path d="M193.0,161.2 193.5,161.5 194.4,162.4 195.5,163.6 196.4,164.6 197.2,165.5 198.0,166.3 198.7,167.2 199.2,168.3 199.6,169.6 199.9,171.2 200.0,172.6 200.0,173.7 199.7,174.4 199.2,174.7 198.7,174.8 198.2,174.5 197.9,173.6 197.7,172.3 197.5,170.9 197.2,169.5 196.7,168.3 196.1,167.2 195.4,166.1 194.8,165.0 194.2,163.8 193.5,162.6 193.1,161.6Z" fill="#fb1414"/>
<path d="M160.5,36.1 160.8,35.9 161.3,35.7 161.8,35.7 162.3,35.8 162.7,36.1 163.1,36.5 163.4,36.9 163.5,37.3 163.4,37.6 163.2,37.9 162.9,38.2 162.5,38.3 162.1,38.4 161.6,38.3 161.1,38.2 160.8,38.0 160.6,37.6 160.4,37.0 160.4,36.5Z" fill="#fb1414"/>
<ellipse cx="165.8" cy="124.2" rx="2.6" ry="2.4" fill="#6a2410"/>
<ellipse cx="208" cy="133.9" rx="1.3" ry="1.2" fill="#6a2410"/>
<ellipse cx="163.4" cy="147.2" rx="1.6" ry="1.6" fill="#6a2410"/>
<path d="M180.6,171.9 179.6,172.0 175.1,170.8 165.2,167.1 160.6,165.7 152.4,164.4 149.6,164.1 146.6,163.5 133.4,162.0 119.4,159.5 112.6,158.0 109.4,156.7 105.9,154.1 103.9,152.2 99.9,147.9 99.0,145.6 97.5,143.4 95.1,141.5 91.1,138.9 83.6,135.0 77.9,133.4 73.4,132.7 68.4,131.1 64.4,129.3 61.2,126.6 60.8,125.6 60.4,120.4 59.5,114.9 59.8,113.9 61.6,110.4 61.9,108.9 61.9,107.6 61.1,104.1 59.3,100.6 59.1,97.6 58.1,94.6 59.7,89.1 60.4,85.6 60.1,80.4 60.2,77.9 60.0,75.1 59.4,72.3 58.3,69.6 56.9,66.4 54.6,62.4 54.5,58.1 54.6,57.1 54.9,56.7 57.5,54.4 61.9,51.1 64.4,50.0 69.9,48.1 78.6,44.4 79.5,43.9 82.5,41.1 85.6,39.4 90.1,38.4 93.6,37.9 95.9,37.4 101.4,36.9 110.4,36.8 119.4,35.8 125.6,35.5 130.1,34.8 143.4,35.9 145.4,36.3 148.9,37.4 152.9,38.1 156.1,38.9 158.9,40.5 159.9,40.5 161.6,40.3 163.8,42.1 167.4,44.0 171.6,45.9 173.4,47.1 174.9,48.9 178.6,54.8 178.9,54.6 182.1,54.8 184.9,55.1 188.9,56.9 191.1,58.2 193.4,59.8 196.1,62.1 198.6,65.0 202.1,68.4 208.4,72.3 213.9,76.6 216.6,78.4 217.9,78.9 220.6,79.8 224.6,80.2 228.1,80.3 231.4,79.8 235.5,82.6 241.1,85.1 247.9,89.6 250.1,90.8 253.6,92.0 260.6,93.4 261.1,93.6 264.1,97.4 268.4,102.1 273.4,107.3 280.8,114.4 283.6,117.7 287.9,121.6 290.7,124.9 292.7,127.6 293.4,128.9 295.1,133.4 296.7,138.1 297.5,141.6 298.2,145.6 298.1,146.2 297.6,147.1 296.3,149.1 294.6,151.1 291.7,154.1 287.9,156.4 285.1,157.5 280.4,158.9 269.1,161.0 250.6,162.4 244.1,162.6 222.1,162.1 215.1,162.2 212.1,162.0 197.1,162.3 194.9,162.9 193.3,163.9 191.5,165.6 188.6,169.4 180.6,171.9ZM170.9,133.1 171.9,132.6 173.0,131.6 173.9,129.9 174.0,126.9 173.7,125.4 173.0,123.9 171.4,122.2 169.6,121.1 166.9,120.3 164.4,120.5 163.9,120.9 163.4,121.6 162.7,124.6 162.9,127.1 163.9,129.6 165.1,131.4 166.7,132.9 167.4,133.2 168.9,133.4 170.9,133.1ZM163.5,148.9 164.6,148.4 164.9,147.9 165.1,147.1 164.6,146.0 164.1,145.7 163.4,145.5 162.6,145.7 162.1,146.1 161.8,146.6 161.7,147.4 161.9,147.9 162.4,148.5 162.9,148.8 163.5,148.9ZM174.6,165.4 171.1,165.5 169.4,165.4 163.6,163.8 161.4,162.9 153.1,161.6 150.4,161.5 147.4,160.8 143.4,160.6 139.6,159.9 135.4,159.6 129.4,158.4 127.4,158.3 121.6,157.1 120.4,157.1 113.8,155.4 109.8,153.6 105.2,150.1 99.4,144.2 98.1,142.7 95.6,140.8 91.4,138.1 89.3,137.1 86.9,135.6 82.4,133.3 79.4,132.0 76.4,131.4 73.5,130.4 70.6,128.6 69.6,127.4 68.6,126.6 66.8,124.1 65.4,121.6 63.6,116.1 62.7,111.1 62.7,108.6 62.6,107.6 62.3,100.9 62.1,99.6 62.0,96.4 61.8,95.1 61.8,91.4 61.6,90.1 61.7,84.6 61.4,82.6 61.4,76.6 61.6,74.9 61.4,73.4 61.2,63.6 61.5,62.4 61.5,60.1 62.1,57.1 63.2,54.6 64.4,53.1 66.8,51.4 69.2,50.1 71.9,48.9 72.9,48.7 80.1,45.8 82.4,43.9 86.6,41.5 91.2,40.1 94.1,39.8 96.4,39.1 98.6,39.0 101.4,38.6 104.9,38.5 106.1,38.3 110.9,38.3 112.1,38.1 117.9,38.0 119.1,37.8 129.6,37.7 130.6,37.5 132.1,37.5 133.6,37.7 137.1,37.8 138.4,38.0 142.1,38.0 144.9,38.3 148.1,39.0 149.9,39.1 156.6,40.6 161.4,42.4 162.6,43.2 164.4,43.9 168.7,46.1 171.9,48.2 173.4,49.4 178.4,54.8 180.9,56.6 182.6,58.1 185.8,60.1 189.4,61.9 194.1,64.7 195.9,66.0 200.8,70.1 204.6,72.6 212.6,78.2 220.1,82.1 226.6,84.6 228.4,85.1 232.4,86.8 242.1,91.5 250.1,95.4 257.4,99.5 259.0,100.6 262.0,103.1 263.8,105.4 266.6,108.5 271.0,114.6 276.2,122.6 280.3,127.9 283.5,132.9 284.2,135.9 284.6,138.4 285.0,140.1 285.3,142.4 285.2,145.9 284.2,148.1 282.4,150.0 278.4,151.7 267.9,154.1 249.9,156.4 247.9,156.4 243.6,156.9 238.9,156.9 237.6,157.1 232.6,157.2 231.4,157.4 220.9,157.7 214.9,158.4 211.4,158.4 206.6,159.1 204.1,159.2 191.6,161.4 178.1,164.7 176.9,164.8 174.6,165.4ZM170.1,137.4 171.4,137.3 172.6,137.0 174.9,135.5 176.6,133.4 177.3,131.1 177.4,129.1 176.6,126.1 175.6,124.1 173.9,122.4 171.0,120.6 167.9,119.7 165.9,119.7 164.4,120.0 163.4,120.6 163.1,121.1 162.2,124.4 162.3,131.1 162.9,133.2 163.5,134.6 165.4,136.5 169.1,137.6 170.1,137.4ZM164.6,150.4 165.6,149.7 166.5,148.6 166.8,147.4 166.5,145.9 165.9,144.9 164.6,144.0 163.4,143.8 162.1,144.1 160.9,144.9 160.3,145.9 160.0,147.1 160.2,148.4 160.9,149.4 161.9,150.2 163.1,150.6 164.6,150.4ZM180.9,161.1 177.4,161.1 173.6,160.8 170.4,159.9 167.1,158.3 163.1,155.6 157.6,152.3 156.9,152.0 151.9,151.6 148.9,151.6 143.4,151.8 136.4,152.6 128.6,152.5 121.4,151.7 115.6,150.3 112.6,149.2 107.4,146.4 103.1,143.6 99.6,140.7 96.9,138.8 84.4,130.8 80.6,128.9 77.9,128.1 75.7,127.1 73.4,125.4 71.8,123.6 70.4,121.6 69.5,120.1 68.5,117.6 67.5,115.1 66.5,111.4 65.8,106.6 65.2,95.6 64.9,94.1 64.9,90.6 64.7,88.9 64.5,82.1 64.6,66.1 64.8,64.4 65.3,61.6 66.1,58.4 67.1,56.4 68.1,55.1 72.6,51.8 81.4,47.3 83.6,45.8 87.6,43.8 91.9,42.5 94.9,41.9 96.9,41.3 98.9,41.1 100.4,40.8 102.6,40.5 114.6,39.8 120.1,39.6 129.6,39.8 131.4,39.7 141.4,40.6 149.1,41.5 153.6,42.3 156.9,43.3 160.1,44.7 167.3,48.6 171.6,51.2 181.9,59.4 184.9,61.4 191.4,65.2 194.6,67.4 197.1,69.6 200.6,72.3 211.6,80.1 218.6,83.9 231.4,89.2 242.0,94.6 248.1,98.1 256.1,103.5 258.9,105.9 263.4,110.6 267.7,116.6 274.6,129.1 275.6,131.1 277.2,135.4 277.7,141.6 277.7,143.4 277.5,143.9 276.2,145.1 273.6,147.1 270.3,149.4 267.4,151.0 263.4,152.7 259.4,153.5 251.6,154.3 247.4,154.5 243.1,154.9 238.4,155.0 220.1,156.3 214.1,157.1 211.1,157.3 203.9,158.4 194.6,160.0 186.1,160.9 180.9,161.1ZM170.1,138.6 171.9,138.4 173.1,138.1 175.7,136.4 177.6,134.1 178.5,131.4 178.5,128.4 178.2,127.1 177.6,125.4 176.6,123.6 174.1,121.2 171.4,119.7 168.4,118.8 165.6,118.8 164.1,119.1 162.9,119.8 162.4,120.4 161.3,124.1 161.3,131.4 161.8,133.6 162.6,135.4 164.9,137.6 168.6,138.7 170.1,138.6ZM209.1,136.1 210.1,135.5 210.7,134.6 210.8,133.6 210.4,132.6 209.6,131.9 208.6,131.5 207.4,131.5 206.4,131.9 205.6,132.6 205.3,133.4 205.3,134.4 205.6,135.1 206.4,135.9 207.1,136.2 208.1,136.3 209.1,136.1ZM164.5,151.9 166.1,151.1 167.4,149.9 168.1,148.1 168.1,146.1 167.3,144.4 165.9,143.1 164.1,142.5 162.4,142.5 160.6,143.3 159.4,144.6 158.7,146.4 158.7,148.1 159.4,149.9 160.9,151.3 162.6,151.9 164.5,151.9ZM191.4,159.4 184.9,159.0 181.4,158.3 177.1,157.0 172.7,154.4 171.0,152.6 169.1,150.1 169.1,149.6 169.5,147.9 169.5,146.6 169.0,144.6 167.6,142.6 168.2,140.9 168.8,139.9 171.9,139.6 173.4,139.2 176.1,137.4 178.4,135.0 178.5,134.4 178.7,134.1 178.7,133.1 179.0,132.9 179.0,129.1 178.8,128.9 178.8,127.4 177.3,124.1 176.3,122.9 176.0,122.1 174.1,120.3 171.1,118.4 168.1,117.7 165.6,117.7 163.9,118.0 162.0,119.1 161.0,120.6 160.2,124.1 160.2,131.9 160.8,134.1 161.4,135.6 164.3,138.6 162.5,139.9 160.4,140.8 157.1,141.7 154.9,141.7 152.1,141.2 148.4,141.7 146.6,142.2 143.1,142.6 140.4,143.2 136.6,144.9 133.6,145.7 127.9,146.3 122.6,146.2 120.1,145.8 110.9,142.9 104.6,140.4 99.9,137.7 96.9,135.7 85.6,127.6 84.4,126.8 79.9,124.9 77.5,123.4 76.2,122.1 73.6,118.4 71.6,114.1 70.0,109.6 68.7,101.1 68.5,94.9 68.2,93.6 68.2,89.9 68.0,88.4 68.0,73.9 68.3,69.6 68.1,66.6 68.4,64.6 69.6,61.1 70.5,59.1 71.8,57.1 75.6,53.3 77.6,51.8 81.6,49.3 87.6,46.5 90.4,45.5 94.9,44.5 97.6,43.5 98.9,43.4 101.1,42.8 115.1,41.7 124.9,41.6 133.4,42.2 136.9,42.8 138.9,42.9 142.1,43.5 148.4,44.1 153.6,44.9 156.6,46.0 158.1,46.7 163.4,50.0 170.6,53.8 175.4,56.8 178.1,58.8 180.1,59.9 190.6,66.9 193.7,69.1 195.6,71.0 202.6,76.3 211.9,82.9 217.3,85.9 220.6,87.5 226.6,89.9 230.9,91.8 240.5,97.1 242.9,98.6 247.1,101.5 253.9,106.9 260.4,113.1 264.5,118.6 267.1,124.2 269.1,129.4 270.0,131.9 270.3,134.1 270.4,138.6 269.0,142.6 267.4,146.1 265.3,148.6 262.6,150.9 259.6,151.8 256.1,152.4 252.1,152.6 245.1,152.6 239.9,153.1 236.9,153.1 219.5,154.9 215.1,155.7 210.9,156.3 203.6,157.6 200.1,158.5 194.4,159.3 191.4,159.4ZM209.2,138.4 211.1,137.6 212.0,136.9 212.6,136.1 213.2,134.4 213.2,133.4 213.0,132.4 211.9,130.8 210.1,129.7 208.1,129.3 205.9,129.7 204.3,130.6 203.1,132.1 202.7,133.6 203.0,135.4 204.0,136.9 205.4,137.9 207.1,138.4 209.2,138.4ZM200.4,157.9 197.6,158.1 193.9,158.0 191.1,157.6 187.6,156.4 184.1,154.9 182.0,153.6 179.9,152.0 178.0,149.9 177.2,148.4 176.8,147.1 179.1,143.9 182.5,135.6 182.6,133.4 182.4,130.9 182.0,129.4 181.1,126.9 180.2,125.4 176.8,120.9 175.1,119.4 173.9,118.6 170.9,116.9 169.1,116.1 167.6,115.8 163.4,115.7 162.6,116.0 161.6,116.8 160.2,118.4 159.3,120.1 158.4,123.1 157.8,130.1 158.0,133.4 157.9,133.9 157.6,134.2 155.9,135.0 153.4,134.9 151.4,135.2 146.6,136.6 145.4,137.2 139.1,138.6 138.1,139.0 134.6,140.7 131.9,141.6 126.9,142.1 123.6,142.1 121.4,141.7 114.4,139.5 111.1,138.7 105.9,136.8 101.4,134.1 96.4,130.2 92.1,127.9 86.4,124.3 81.9,122.2 80.1,121.0 78.3,118.6 76.5,115.9 75.1,112.6 73.7,108.6 72.4,100.1 72.0,92.4 72.0,88.9 71.8,87.1 71.9,75.6 72.6,70.6 72.9,66.1 74.1,63.0 75.6,60.0 78.1,56.6 79.9,54.9 83.1,52.5 89.1,49.7 91.6,48.7 95.6,47.7 98.6,46.6 99.9,46.5 101.9,45.9 106.6,45.3 116.1,44.4 124.1,44.2 132.6,44.9 141.1,46.2 151.9,47.2 155.6,48.4 156.9,49.0 161.9,52.3 169.4,56.4 171.1,57.5 174.1,59.0 178.9,61.9 183.4,65.3 190.1,70.0 192.4,71.8 194.1,73.4 201.1,78.6 209.9,84.7 216.1,88.0 227.4,93.2 241.1,101.6 247.9,106.4 251.6,109.5 256.6,114.4 258.6,116.9 260.7,120.4 261.4,121.9 263.6,127.9 264.4,130.9 264.8,132.9 264.5,137.6 263.6,142.6 262.8,144.9 261.8,146.4 260.6,147.6 258.6,148.6 254.9,149.4 239.9,150.0 230.9,151.8 218.9,153.7 200.4,157.9ZM209.4,139.4 209.6,139.2 210.4,139.2 211.9,138.5 213.7,136.6 214.2,135.6 214.2,134.9 214.4,134.6 214.4,133.1 214.2,132.9 214.2,132.1 213.7,131.1 212.9,130.4 212.1,129.6 211.9,129.6 210.9,128.8 210.4,128.8 210.1,128.6 209.4,128.6 209.1,128.3 207.9,128.3 206.9,128.3 206.6,128.6 205.9,128.6 205.6,128.8 205.1,128.8 204.1,129.6 203.9,129.6 203.1,130.4 202.3,131.1 201.8,132.1 201.6,133.9 201.8,135.6 202.3,136.6 204.1,138.4 205.6,139.2 206.4,139.2 206.6,139.4 209.4,139.4ZM200.6,157.4 199.4,157.5 197.1,156.9 195.5,156.1 193.4,154.7 191.4,152.9 189.4,150.4 187.2,146.6 187.0,146.1 187.2,145.4 188.7,141.4 191.1,137.5 193.1,134.9 193.0,134.4 191.6,132.7 190.5,130.9 187.9,125.6 184.8,122.9 182.6,121.7 178.4,118.8 175.1,116.9 170.1,114.7 163.4,113.4 162.4,113.4 161.5,113.9 160.0,115.9 158.3,118.9 157.0,122.6 155.5,128.6 154.6,131.1 154.2,131.6 149.4,134.0 145.1,135.9 142.1,136.8 138.1,137.6 135.6,138.5 132.6,139.1 130.4,139.3 125.4,139.1 122.1,138.6 118.4,137.4 112.9,135.3 109.4,133.6 106.1,131.4 103.5,129.1 99.3,124.4 97.9,123.9 92.4,123.4 91.1,123.1 85.6,120.6 82.8,118.9 81.1,116.9 79.4,113.9 78.5,111.4 77.6,107.6 76.9,99.4 76.4,81.4 76.9,76.9 78.5,70.6 78.9,67.1 80.8,62.9 83.2,59.6 85.9,57.1 87.6,55.9 92.9,53.3 95.4,52.4 99.6,51.0 103.1,50.2 117.4,48.3 122.9,47.8 126.9,47.9 139.1,49.3 150.6,50.3 152.9,50.7 155.1,51.3 159.4,53.7 169.4,60.4 173.4,62.2 175.6,63.7 177.6,65.3 181.1,68.5 187.9,73.3 191.9,76.7 195.4,79.4 200.6,82.8 204.8,85.4 209.0,87.6 214.9,90.4 219.9,92.4 223.4,94.4 232.4,100.9 247.1,110.3 250.3,112.9 253.9,116.9 255.1,119.1 256.8,123.6 258.3,127.9 259.4,132.4 259.3,136.9 259.1,138.6 258.0,141.9 257.1,143.0 254.4,144.5 251.4,145.1 245.4,145.4 237.1,145.6 234.4,147.6 230.3,149.1 221.9,151.5 218.6,152.2 215.6,153.2 204.1,156.7 200.6,157.4ZM209.6,139.4 210.4,139.3 211.9,138.6 213.8,136.6 214.3,135.6 214.3,134.9 214.6,134.6 214.6,133.1 214.3,132.9 214.3,132.1 213.8,131.1 212.8,130.1 212.1,129.5 211.9,129.5 210.9,128.7 210.4,128.7 210.1,128.5 209.4,128.5 209.1,128.2 207.9,128.2 206.9,128.2 206.6,128.5 205.9,128.5 205.6,128.7 205.1,128.7 204.1,129.4 203.9,129.4 203.2,130.1 202.2,131.1 201.7,132.1 201.7,132.9 201.4,133.1 201.4,134.6 201.7,134.9 201.7,135.6 202.2,136.6 204.1,138.6 205.6,139.3 206.4,139.3 206.6,139.6 209.4,139.6 209.6,139.4ZM245.1,140.9 238.6,141.0 236.6,140.7 235.1,139.9 233.6,138.8 231.9,137.7 221.9,132.8 212.9,126.8 211.5,126.1 207.6,125.3 203.6,125.3 199.6,126.0 196.6,125.6 195.1,124.9 194.1,123.9 192.8,121.6 190.0,119.6 187.6,118.9 186.4,118.3 185.1,118.0 183.6,117.9 182.1,117.2 180.1,116.8 175.9,115.0 170.1,113.0 162.6,111.1 161.9,111.1 160.7,111.6 159.7,112.6 158.4,115.1 157.0,118.4 155.3,123.1 154.1,125.7 152.1,129.4 149.9,131.5 145.6,134.1 141.4,135.7 135.4,136.8 131.1,136.9 124.3,135.9 118.9,134.1 115.1,132.3 112.9,130.9 109.9,128.5 108.0,126.4 106.8,124.6 105.7,123.4 104.4,120.2 102.5,118.9 100.6,118.3 96.6,118.3 94.9,118.9 92.4,119.4 90.6,119.4 87.1,117.9 84.9,116.4 83.9,115.0 82.9,113.0 82.1,110.4 81.6,107.1 81.5,99.9 81.3,98.4 81.3,86.4 81.1,85.1 81.1,81.6 81.7,78.4 82.6,75.4 83.9,72.4 84.9,68.1 86.0,65.6 88.3,62.1 90.4,60.1 95.4,57.2 98.1,56.1 99.9,55.7 101.1,55.1 102.1,55.0 104.6,54.3 110.1,53.3 114.6,52.7 123.4,51.3 126.4,51.3 132.6,52.0 137.1,52.3 137.9,52.5 142.1,52.5 145.6,53.0 149.9,53.3 152.1,53.6 154.9,54.2 158.9,56.4 161.6,58.6 168.4,63.6 169.9,64.3 172.1,65.0 173.8,66.1 175.1,67.4 176.6,69.4 178.9,71.6 180.8,72.9 183.9,75.4 185.7,76.6 187.1,78.0 190.9,81.0 193.6,83.0 195.1,83.6 198.4,85.7 204.4,88.9 213.9,93.0 218.4,94.7 221.7,96.9 223.9,99.0 229.9,104.2 235.6,108.1 244.4,112.9 248.1,115.6 249.8,117.6 250.6,118.9 251.3,122.9 252.3,126.6 253.2,128.9 253.7,131.4 254.0,133.1 254.0,136.9 252.9,139.1 252.1,139.9 250.1,140.5 245.1,140.9ZM201.6,156.4 200.1,156.5 199.2,156.4 197.6,155.4 196.6,154.0 195.6,151.6 195.0,149.1 195.0,147.6 195.8,145.1 197.1,143.9 198.4,143.7 203.1,145.5 205.4,146.0 207.4,146.7 209.1,147.0 212.6,147.0 215.1,146.4 218.1,145.1 225.6,139.8 227.4,139.2 229.2,139.6 231.1,141.3 232.1,142.6 232.4,143.9 231.9,144.9 230.4,145.9 227.8,147.1 221.9,149.4 217.9,150.5 214.8,151.9 204.8,155.6 201.6,156.4ZM133.9,131.1 131.9,131.2 125.4,130.5 121.1,129.3 117.6,128.0 114.6,126.4 111.4,124.1 108.6,121.4 106.7,118.6 103.9,116.4 100.9,115.0 95.1,113.1 91.9,112.5 90.6,111.6 89.9,110.6 89.3,109.1 88.5,105.9 88.1,102.1 87.8,97.4 88.4,83.4 88.8,81.4 90.6,75.1 91.6,70.6 92.5,68.6 93.7,66.6 94.6,65.6 97.4,63.5 99.6,62.3 104.9,60.1 109.6,58.5 119.1,56.3 125.4,55.4 130.6,55.7 137.4,56.3 141.1,56.3 148.9,56.9 153.4,57.6 156.1,58.6 157.4,59.2 167.4,65.4 171.4,67.3 172.6,68.1 177.7,73.1 179.9,75.1 183.6,79.1 187.1,83.6 189.0,85.6 203.6,95.1 207.3,98.1 209.4,100.1 213.4,104.6 214.5,106.6 216.5,111.6 216.4,112.1 215.9,112.4 200.6,116.2 194.6,114.2 192.4,113.6 186.6,112.4 181.6,111.7 177.6,110.7 173.6,110.0 170.9,109.6 164.9,109.2 161.9,109.5 160.1,110.2 158.4,111.6 156.0,114.6 149.7,124.1 146.9,126.9 143.1,129.0 140.1,130.1 135.9,130.9 133.9,131.1ZM133.4,125.1 131.9,125.3 129.1,125.2 126.1,124.9 123.1,124.3 120.4,123.6 118.9,123.0 113.4,120.4 111.7,119.4 106.2,114.6 100.9,110.8 97.9,107.6 96.5,105.9 95.5,104.1 94.6,100.6 94.6,95.6 96.2,83.4 97.4,78.9 97.9,75.4 98.5,72.6 99.8,70.4 101.6,68.6 104.6,66.8 111.6,63.3 120.1,60.5 126.9,59.6 129.9,59.6 134.6,60.1 140.4,60.2 144.9,60.7 148.6,60.8 153.6,61.6 158.9,63.4 164.9,66.2 170.1,69.2 174.1,72.3 176.5,74.6 178.4,76.9 180.3,80.1 182.6,85.1 183.7,86.9 185.0,88.6 187.4,90.6 194.1,95.0 196.4,96.8 198.7,99.1 199.9,101.4 200.2,102.6 200.2,103.6 200.0,104.6 199.6,105.4 198.1,106.2 194.9,106.9 192.1,107.0 176.6,105.9 172.9,105.8 170.4,105.9 166.9,106.4 164.4,106.9 161.6,107.8 160.1,108.5 156.9,110.6 154.1,112.9 146.9,120.0 145.4,120.9 143.1,122.5 138.1,124.5 134.9,125.1 133.4,125.1ZM134.6,118.6 130.4,118.8 127.6,118.5 122.1,117.1 118.6,115.6 115.6,114.2 113.9,113.0 108.3,108.1 106.3,105.9 104.4,102.6 103.0,99.1 102.7,97.4 102.8,92.1 103.3,86.4 104.7,79.1 105.0,76.9 105.9,74.3 107.1,73.1 110.6,70.6 113.8,68.6 116.1,67.5 121.4,65.4 124.4,64.7 128.6,64.0 139.1,64.1 147.1,64.6 154.9,65.9 158.9,67.1 163.6,69.1 169.1,72.6 172.4,75.3 173.5,76.6 175.1,78.9 176.1,81.4 177.8,87.1 179.7,91.6 182.1,95.1 184.7,97.9 184.9,98.4 183.9,98.8 175.4,100.6 171.6,101.6 169.1,102.3 165.9,103.5 159.3,106.6 152.6,110.5 147.6,113.9 144.4,115.7 140.1,117.5 136.4,118.4 134.6,118.6ZM137.1,111.4 133.9,111.5 130.4,111.0 127.6,110.1 124.9,108.9 121.9,106.9 120.0,105.4 117.5,102.6 115.6,100.1 114.1,97.6 113.5,94.9 112.1,90.6 111.4,87.4 111.3,85.4 111.6,82.1 112.0,80.4 112.6,78.6 113.7,77.4 116.8,74.6 119.4,72.9 121.3,71.9 125.2,70.4 128.1,69.5 135.4,68.5 138.9,68.5 144.1,68.9 153.6,70.3 157.6,71.3 161.6,73.1 164.0,74.6 165.9,76.1 167.4,77.7 169.1,79.9 170.1,81.9 170.9,84.4 171.5,88.1 171.9,92.4 171.7,93.4 169.9,95.4 163.9,100.7 160.6,102.8 157.9,104.2 156.4,105.1 154.4,105.9 148.6,108.4 143.6,110.1 141.1,110.8 137.1,111.4ZM142.9,105.1 140.4,105.2 139.4,105.0 137.4,105.0 135.6,104.7 134.1,104.1 133.1,103.9 131.6,103.2 130.0,102.1 128.1,100.2 125.1,95.6 123.9,93.1 122.6,89.9 119.6,86.1 118.8,84.4 118.9,83.1 119.4,81.9 121.4,79.4 123.1,77.9 128.4,75.1 134.6,73.2 136.4,72.8 140.1,72.8 141.1,73.0 143.1,73.1 150.6,74.5 152.4,74.5 156.1,75.4 158.9,76.6 160.1,77.4 161.7,78.6 163.1,80.4 164.2,82.4 164.6,83.4 165.2,85.6 165.2,88.4 165.0,89.1 164.9,90.9 164.3,93.1 162.6,96.5 161.2,98.4 158.4,100.7 154.9,102.6 153.9,102.7 148.9,104.4 145.9,104.9 142.9,105.1ZM145.1,99.9 144.4,100.0 143.4,99.8 141.6,99.7 138.1,98.6 135.1,97.0 133.5,95.9 131.8,93.6 130.2,90.4 130.0,88.1 130.5,85.6 131.5,83.4 132.4,82.2 134.6,80.8 136.9,79.8 137.9,79.6 139.1,79.0 142.1,78.5 148.4,78.5 151.7,79.1 153.9,80.1 155.5,81.1 155.8,81.6 156.7,83.4 157.0,84.4 157.1,87.1 156.5,90.1 155.5,92.6 152.9,96.1 150.0,98.4 149.1,98.9 146.6,99.7 145.1,99.9Z" fill="none" stroke="#1a1a1a" stroke-width="0.95"/>
</g>
<path d="M192.8,161.0 193.6,161.8 194.4,162.5 195.1,163.4 195.7,164.3 196.5,165.1 197.5,165.7 198.3,166.5 198.9,167.4 199.5,168.4 199.7,169.5 199.7,170.7 199.7,171.8 199.9,172.9 199.8,173.8 199.0,174.6 198.2,175.4 197.3,176.0 196.4,176.7 195.3,177.0 194.2,177.3 193.2,177.5 192.1,178.0 191.1,178.5 190.0,178.6 188.9,178.8 187.9,179.4 186.9,179.8 185.8,179.9 184.7,180.2 183.7,180.8 182.9,181.6 182.0,182.2 181.3,183.1 180.7,184.1 179.9,184.8 178.9,184.1 178.0,183.5 177.0,182.9 176.2,182.2 175.4,181.5 174.6,180.7 173.7,180.0 173.0,179.1 172.5,178.2 171.9,177.2 171.1,176.4 170.2,175.8 169.5,174.9 168.8,174.1 168.0,173.3 167.3,172.4 166.5,171.8 165.5,171.3 164.6,170.7 163.7,170.1 162.7,169.6 161.6,169.3 160.5,169.1 159.4,169.0 158.3,168.9 157.2,168.7 156.1,168.6 155.0,168.4 153.9,168.3 152.8,168.2 151.7,168.1 150.7,167.7 149.6,167.3 148.5,167.2 147.5,167.0 146.4,166.6 145.3,166.5 144.2,166.4 143.1,166.4 142.0,166.5 140.8,166.5 139.8,166.3 138.7,166.2 137.6,166.1 136.5,165.9 135.4,165.6 134.3,165.4 133.3,165.0 132.2,164.8 131.1,164.7 130.0,164.6 128.9,164.4 127.9,164.0 126.8,163.7 125.7,163.6 124.6,163.5 123.5,163.1 122.4,162.9 121.4,162.7 120.3,162.4 119.2,162.4 118.1,162.3 117.0,162.3 115.8,162.3 114.8,162.1 113.7,161.7 112.7,161.3 111.7,160.9 110.6,160.7 109.5,160.6 108.3,160.4 107.5,159.7 106.8,158.7 106.0,158.1 105.0,157.5 104.0,156.9 103.1,156.2 102.3,155.5 101.8,154.5 101.3,153.4 100.6,152.6 99.7,151.9 99.0,151.1 98.3,150.3 97.4,149.7 96.7,148.9 95.7,148.3 95.2,147.8 96.1,147.1 97.1,146.6 98.2,145.8 97.3,144.9 96.4,144.2 95.6,143.6 94.9,142.7 94.2,141.8 93.4,141.0 92.4,140.5 91.3,140.1 90.4,139.5 89.6,138.6 88.7,138.0 87.6,137.9 86.5,137.4 85.6,136.8 84.7,136.3 83.6,135.8 82.5,135.9 81.4,135.8 80.4,135.6 79.3,135.6 78.2,135.5 77.1,135.4 76.0,135.3 74.9,135.3 73.8,135.1 72.7,135.0 71.6,135.1 70.5,134.9 69.4,134.7 68.3,134.9 67.2,135.3 66.1,135.7 65.0,135.7 63.9,135.5 62.9,135.5 62.0,135.2 60.9,134.9 59.9,134.4 58.9,133.9 57.8,133.7 56.6,133.8 55.6,133.5 54.6,132.9 53.5,132.5 52.4,132.5 51.3,132.2 50.3,131.8 49.7,130.9 49.3,129.8 49.8,128.9 50.5,128.1 51.1,127.2 51.7,126.3 52.6,125.5 53.2,124.6 53.7,123.6 54.2,122.6 54.6,121.6 54.8,120.5 54.7,119.3 54.6,118.3 54.9,117.2 54.8,116.1 54.7,115.0 54.9,113.9 55.3,112.8 55.7,111.8 55.9,110.8 56.4,109.8 57.6,109.6 58.7,109.6 59.8,109.8 60.9,109.6 60.9,108.5 61.2,107.6 60.8,106.7 60.2,105.8 59.5,105.3 58.5,104.7 57.6,104.2 56.7,103.5 55.8,102.9 55.6,102.0 55.6,100.9 55.5,99.8 55.2,98.9 54.7,98.0 53.9,97.2 53.3,96.3 52.8,95.2 52.7,94.1 52.8,92.9 53.0,91.8 53.9,91.0 54.9,90.5 55.9,90.0 56.8,89.3 57.5,88.5 58.1,87.5 58.3,86.4 58.5,85.4 58.8,84.4 58.8,83.3 58.7,82.2 58.4,81.1 58.4,80.0 58.8,78.9 58.8,77.8 58.6,76.7 58.3,75.6 57.8,74.7 57.2,73.8 56.5,73.0 55.7,72.2 54.7,71.7 53.7,71.3 52.7,71.1 51.6,70.8 50.6,70.3 49.7,69.5 48.8,69.0 48.0,68.1 47.5,67.1 47.2,66.2 46.7,65.2 46.3,64.2 46.0,63.1 45.9,62.1 45.7,61.0 45.5,59.9 45.4,58.8 45.2,57.7 45.4,56.6 45.5,55.5 45.5,54.4 45.7,53.3 45.8,52.2 45.9,51.1 45.9,50.0 46.2,48.9 46.7,48.1 47.5,47.6 48.4,46.7 49.4,46.5 50.5,46.9 51.6,46.9 52.7,46.9 53.8,47.3 54.8,47.6 55.9,47.8 57.0,47.8 58.1,47.6 59.2,47.3 60.3,47.2 61.4,47.4 62.5,47.5 63.6,47.5 64.7,47.4 65.8,47.3 66.9,47.2 68.0,46.9 69.0,46.3 70.0,45.8 70.9,45.3 72.0,44.8 72.9,44.3 73.9,43.7 74.8,43.1 75.8,42.6 76.9,42.4 77.9,42.0 78.8,41.2 79.6,40.5 80.3,39.6 80.8,38.6 81.8,38.0 82.8,37.6 83.7,37.1 84.7,36.6 85.8,36.5 86.9,36.4 88.0,36.2 89.1,36.1 90.2,35.9 91.2,35.6 92.3,35.4 93.4,35.1 94.5,34.9 95.6,34.7 96.7,34.7 97.8,34.7 98.9,34.8 100.0,34.9 101.1,34.9 102.2,34.8 103.3,34.7 104.4,34.7 105.5,34.9 106.6,35.1 107.7,35.2 108.8,35.1 109.9,35.2 111.0,35.0 112.0,34.5 113.1,34.5 114.2,34.3 115.2,33.6 116.2,33.3 117.4,33.3 118.5,33.1 119.6,33.2 120.7,33.2 121.8,33.1 122.9,33.0 124.0,32.8 125.1,32.5 126.1,32.0 127.1,31.6 128.2,31.4 129.3,31.3 130.3,31.7 131.4,31.7 132.6,31.3 133.7,31.2 134.8,31.4 135.8,31.8 136.9,32.3 138.0,32.4 139.1,32.4 140.2,32.3 141.3,32.2 142.4,32.7 143.4,33.3 144.4,33.5 145.5,33.7 146.6,34.0 147.5,34.6 148.6,35.0 149.6,35.3 150.7,35.4 151.8,35.6 152.9,35.8 154.0,36.0 155.0,36.4 156.0,36.8 157.1,37.3 157.7,38.2 158.3,39.2 159.0,39.4 159.3,38.3 159.8,37.3 160.4,36.4 161.3,35.9 162.4,35.7 163.0,36.7 163.7,37.6 164.0,38.7 164.4,39.7 164.7,40.8 165.5,41.5 166.5,42.1 167.4,42.6 168.5,43.0 169.5,43.4 170.6,43.6 171.8,43.6 172.9,43.8 173.8,44.5 174.7,45.1 175.5,45.9 175.9,46.9 176.4,47.9 176.6,49.0 176.7,50.1 176.9,51.2 177.1,52.3 177.5,53.4 178.2,54.2 178.9,54.7 179.6,53.9 180.3,53.0 181.1,52.3 182.0,51.6 182.7,50.8 183.4,50.1 184.5,49.7 185.5,49.8 186.4,50.4 187.5,50.8 188.6,50.9 189.7,51.1 190.8,51.3 191.8,51.8 192.7,52.5 193.5,53.3 194.3,54.1 195.4,54.5 196.3,55.1 196.8,56.1 197.5,57.0 198.2,57.8 199.0,58.6 199.6,59.6 200.0,60.6 200.3,61.7 200.7,62.7 201.3,63.7 202.1,64.5 202.9,65.3 203.6,66.1 204.5,66.8 205.4,67.4 206.3,68.1 207.3,68.5 208.4,68.7 209.3,69.4 210.1,70.1 210.9,70.8 211.9,71.3 212.8,72.0 213.4,73.0 214.0,73.9 214.9,74.6 215.9,75.2 216.7,75.9 217.6,76.5 218.7,76.7 219.7,77.0 220.8,76.6 221.8,76.2 222.9,76.1 223.9,75.7 224.6,75.1 225.2,74.2 226.0,73.4 226.5,72.4 227.2,71.5 227.9,70.8 228.6,70.0 229.6,69.5 230.7,69.1 231.6,68.7 232.6,68.9 233.7,69.0 234.7,69.3 235.3,70.3 235.6,71.4 236.1,72.4 236.8,73.2 237.6,74.1 238.1,75.1 238.6,76.0 239.2,76.9 240.1,77.2 241.2,77.6 242.2,78.0 243.2,78.5 244.2,78.9 245.2,79.4 246.2,80.0 247.1,80.7 247.9,81.4 248.5,82.3 249.1,83.4 249.8,84.2 250.7,84.8 251.5,85.6 252.4,86.1 253.6,85.9 254.7,85.7 255.7,85.4 256.8,85.0 257.8,84.7 258.8,84.3 259.9,84.1 261.0,83.9 262.0,83.3 263.0,83.1 264.0,83.5 265.1,83.9 266.2,83.9 267.2,84.3 267.8,85.2 268.5,86.1 268.9,87.1 269.0,88.2 269.4,89.2 269.6,90.3 269.7,91.4 270.1,92.5 270.5,93.4 271.2,94.1 271.9,95.0 272.6,95.9 273.1,96.8 273.8,97.7 274.6,98.5 275.4,99.2 276.3,99.9 277.2,100.5 278.3,100.9 279.3,101.3 280.3,101.8 281.2,102.4 282.1,103.1 283.1,103.5 284.2,103.8 285.2,104.2 286.1,104.9 286.9,105.7 287.5,106.6 288.3,107.3 289.1,108.1 290.1,108.7 291.2,109.0 292.2,109.5 293.1,110.2 294.1,110.7 295.0,111.2 296.0,111.8 296.8,112.5 297.6,113.3 298.4,114.0 299.3,114.7 300.0,115.5 300.7,116.4 301.4,117.3 302.2,118.0 303.0,118.7 303.8,119.6 304.3,120.5 304.7,121.6 305.2,122.6 305.9,123.5 306.3,124.5 306.9,125.4 307.6,126.3 308.1,127.3 308.4,128.4 309.0,129.3 309.5,130.3 309.9,131.3 310.4,132.3 310.8,133.3 311.4,134.3 311.9,135.2 312.3,136.3 312.7,137.3" fill="none" stroke="#111" stroke-width="1.35" stroke-linejoin="round"/>
<circle cx="88.6" cy="88.0" r="1.5" fill="#f3ee40" stroke="#222" stroke-width="0.7"/>
<circle cx="99" cy="71" r="1.0" fill="none" stroke="#222" stroke-width="0.7"/>
<circle cx="120.3" cy="94.6" r="2.0" fill="none" stroke="#222" stroke-width="0.7"/>
<circle cx="103.5" cy="120.8" r="1.6" fill="none" stroke="#222" stroke-width="0.7"/>
<circle cx="181.5" cy="126.5" r="0.8" fill="#222" stroke="none"/>
<text x="106" y="34.4" font-size="5.4" fill="#333">0.2</text>
<text x="144.3" y="31.6" font-size="5.4" fill="#333" transform="rotate(8 144.3 31.6)">0.2</text>
<text x="250.4" y="83.6" font-size="5.2" fill="#333" transform="rotate(-18 250.4 83.6)">0.2</text>
<text x="272.5" y="98" font-size="4.8" fill="#333" transform="rotate(45 272.5 98)">0.8</text>
<text x="294.5" y="109" font-size="5.0" fill="#333" transform="rotate(45 294.5 109)">0.4</text>
<text x="301" y="116" font-size="5.0" fill="#333" transform="rotate(45 301 116)">0.6</text>
<text x="140" y="42.3" font-size="4.8" fill="#333" transform="rotate(8 140 42.3)">1.4</text>
<text x="106.5" y="57" font-size="4.8" fill="#333" transform="rotate(-12 106.5 57)">2.4</text>
<text x="140.5" y="56" font-size="4.8" fill="#333" transform="rotate(8 140.5 56)">2.4</text>
<text x="161" y="67" font-size="4.6" fill="#333" transform="rotate(20 161 67)">2.6</text>
<text x="149.5" y="74.5" font-size="4.8" fill="#333">3</text>
<text x="148" y="80.5" font-size="4.8" fill="#333">3.2</text>
<text x="113.5" y="90" font-size="4.6" fill="#333" transform="rotate(-20 113.5 90)">2.8</text>
<text x="84" y="87.5" font-size="4.8" fill="#333" transform="rotate(-60 84 87.5)">2</text>
<text x="157" y="99" font-size="4.6" fill="#333" transform="rotate(-30 157 99)">2.6</text>
<text x="251" y="122" font-size="5.0" fill="#333" transform="rotate(-80 251 122)">2.4</text>
<text x="181.5" y="135.5" font-size="4.6" fill="#333" transform="rotate(-40 181.5 135.5)">2</text>
<text x="317.2" y="30.3" font-size="10.6" text-anchor="middle" fill="#222">N</text>
<circle cx="317.5" cy="53" r="13.8" fill="#fff" stroke="#111" stroke-width="1.9"/>
<circle cx="317.5" cy="53" r="11.5" fill="none" stroke="#c8c8c8" stroke-width="0.6"/>
<linearGradient id="ng1" gradientUnits="userSpaceOnUse" x1="303.6" y1="0" x2="317.5" y2="0"><stop offset="0" stop-color="#b4b4b4"/><stop offset="1" stop-color="#ececec"/></linearGradient>
<polygon points="317.5,32.2 303.6,66.6 317.5,53.5" fill="url(#ng1)"/>
<polygon points="317.5,32.2 331.4,66.6 317.5,53.5" fill="#fff"/>
<polygon points="317.5,32.2 331.4,66.6 317.5,53.5 303.6,66.6" fill="none" stroke="#808080" stroke-width="0.7" stroke-linejoin="miter"/>
<rect x="268" y="176.5" width="49.60000000000002" height="4.300000000000011" fill="#fff" stroke="#777" stroke-width="0.8"/>
<rect x="218.7" y="176.5" width="49.30000000000001" height="4.300000000000011" fill="#000"/>
<text x="217" y="173" font-size="7.6" fill="#111">0</text>
<text x="262" y="173" font-size="7.6" fill="#111">2.5</text>
<text x="315.2" y="173" font-size="7.6" fill="#111">5 km</text>
<text x="19" y="180.5" font-size="10" font-weight="bold" font-style="italic">(a)</text>
<path d="M192.8,334.5 193.6,335.3 194.4,336.0 195.1,336.9 195.7,337.8 196.5,338.6 197.5,339.2 198.3,340.0 198.9,340.9 199.5,341.9 199.7,343.0 199.7,344.2 199.7,345.3 199.9,346.4 199.8,347.3 199.0,348.1 198.2,348.9 197.3,349.5 196.4,350.2 195.3,350.5 194.2,350.8 193.2,351.0 192.1,351.5 191.1,352.0 190.0,352.1 188.9,352.3 187.9,352.9 186.9,353.3 185.8,353.4 184.7,353.7 183.7,354.3 182.9,355.1 182.0,355.7 181.3,356.6 180.7,357.6 179.9,358.3 178.9,357.6 178.0,357.0 177.0,356.4 176.2,355.7 175.4,355.0 174.6,354.2 173.7,353.5 173.0,352.6 172.5,351.7 171.9,350.7 171.1,349.9 170.2,349.3 169.5,348.4 168.8,347.6 168.0,346.8 167.3,345.9 166.5,345.3 165.5,344.8 164.6,344.2 163.7,343.6 162.7,343.1 161.6,342.8 160.5,342.6 159.4,342.5 158.3,342.4 157.2,342.2 156.1,342.1 155.0,341.9 153.9,341.8 152.8,341.7 151.7,341.6 150.7,341.2 149.6,340.8 148.5,340.7 147.5,340.5 146.4,340.1 145.3,340.0 144.2,339.9 143.1,339.9 142.0,340.0 140.8,340.0 139.8,339.8 138.7,339.7 137.6,339.6 136.5,339.4 135.4,339.1 134.3,338.9 133.3,338.5 132.2,338.3 131.1,338.2 130.0,338.1 128.9,337.9 127.9,337.5 126.8,337.2 125.7,337.1 124.6,337.0 123.5,336.6 122.4,336.4 121.4,336.2 120.3,335.9 119.2,335.9 118.1,335.8 117.0,335.8 115.8,335.8 114.8,335.6 113.7,335.2 112.7,334.8 111.7,334.4 110.6,334.2 109.5,334.1 108.3,333.9 107.5,333.2 106.8,332.2 106.0,331.6 105.0,331.0 104.0,330.4 103.1,329.7 102.3,329.0 101.8,328.0 101.3,326.9 100.6,326.1 99.7,325.4 99.0,324.6 98.3,323.8 97.4,323.2 96.7,322.4 95.7,321.8 95.2,321.3 96.1,320.6 97.1,320.1 98.2,319.3 97.3,318.4 96.4,317.7 95.6,317.1 94.9,316.2 94.2,315.3 93.4,314.5 92.4,314.0 91.3,313.6 90.4,313.0 89.6,312.1 88.7,311.5 87.6,311.4 86.5,310.9 85.6,310.3 84.7,309.8 83.6,309.3 82.5,309.4 81.4,309.3 80.4,309.1 79.3,309.1 78.2,309.0 77.1,308.9 76.0,308.8 74.9,308.8 73.8,308.6 72.7,308.5 71.6,308.6 70.5,308.4 69.4,308.2 68.3,308.4 67.2,308.8 66.1,309.2 65.0,309.2 63.9,309.0 62.9,309.0 62.0,308.7 60.9,308.4 59.9,307.9 58.9,307.4 57.8,307.2 56.6,307.3 55.6,307.0 54.6,306.4 53.5,306.0 52.4,306.0 51.3,305.7 50.3,305.3 49.7,304.4 49.3,303.3 49.8,302.4 50.5,301.6 51.1,300.7 51.7,299.8 52.6,299.0 53.2,298.1 53.7,297.1 54.2,296.1 54.6,295.1 54.8,294.0 54.7,292.8 54.6,291.8 54.9,290.7 54.8,289.6 54.7,288.5 54.9,287.4 55.3,286.3 55.7,285.3 55.9,284.3 56.4,283.3 57.6,283.1 58.7,283.1 59.8,283.3 60.9,283.1 60.9,282.0 61.2,281.1 60.8,280.2 60.2,279.3 59.5,278.8 58.5,278.2 57.6,277.7 56.7,277.0 55.8,276.4 55.6,275.5 55.6,274.4 55.5,273.3 55.2,272.4 54.7,271.5 53.9,270.7 53.3,269.8 52.8,268.7 52.7,267.6 52.8,266.4 53.0,265.3 53.9,264.5 54.9,264.0 55.9,263.5 56.8,262.8 57.5,262.0 58.1,261.0 58.3,259.9 58.5,258.9 58.8,257.9 58.8,256.8 58.7,255.7 58.4,254.6 58.4,253.5 58.8,252.4 58.8,251.3 58.6,250.2 58.3,249.1 57.8,248.2 57.2,247.3 56.5,246.5 55.7,245.7 54.7,245.2 53.7,244.8 52.7,244.6 51.6,244.3 50.6,243.8 49.7,243.0 48.8,242.5 48.0,241.6 47.5,240.6 47.2,239.7 46.7,238.7 46.3,237.7 46.0,236.6 45.9,235.6 45.7,234.5 45.5,233.4 45.4,232.3 45.2,231.2 45.4,230.1 45.5,229.0 45.5,227.9 45.7,226.8 45.8,225.7 45.9,224.6 45.9,223.5 46.2,222.4 46.7,221.6 47.5,221.1 48.4,220.2 49.4,220.0 50.5,220.4 51.6,220.4 52.7,220.4 53.8,220.8 54.8,221.1 55.9,221.3 57.0,221.3 58.1,221.1 59.2,220.8 60.3,220.7 61.4,220.9 62.5,221.0 63.6,221.0 64.7,220.9 65.8,220.8 66.9,220.7 68.0,220.4 69.0,219.8 70.0,219.3 70.9,218.8 72.0,218.3 72.9,217.8 73.9,217.2 74.8,216.6 75.8,216.1 76.9,215.9 77.9,215.5 78.8,214.7 79.6,214.0 80.3,213.1 80.8,212.1 81.8,211.5 82.8,211.1 83.7,210.6 84.7,210.1 85.8,210.0 86.9,209.9 88.0,209.7 89.1,209.6 90.2,209.4 91.2,209.1 92.3,208.9 93.4,208.6 94.5,208.4 95.6,208.2 96.7,208.2 97.8,208.2 98.9,208.3 100.0,208.4 101.1,208.4 102.2,208.3 103.3,208.2 104.4,208.2 105.5,208.4 106.6,208.6 107.7,208.7 108.8,208.6 109.9,208.7 111.0,208.5 112.0,208.0 113.1,208.0 114.2,207.8 115.2,207.1 116.2,206.8 117.4,206.8 118.5,206.6 119.6,206.7 120.7,206.7 121.8,206.6 122.9,206.5 124.0,206.3 125.1,206.0 126.1,205.5 127.1,205.1 128.2,204.9 129.3,204.8 130.3,205.2 131.4,205.2 132.6,204.8 133.7,204.7 134.8,204.9 135.8,205.3 136.9,205.8 138.0,205.9 139.1,205.9 140.2,205.8 141.3,205.7 142.4,206.2 143.4,206.8 144.4,207.0 145.5,207.2 146.6,207.5 147.5,208.1 148.6,208.5 149.6,208.8 150.7,208.9 151.8,209.1 152.9,209.3 154.0,209.5 155.0,209.9 156.0,210.3 157.1,210.8 157.7,211.7 158.3,212.7 159.0,212.9 159.3,211.8 159.8,210.8 160.4,209.9 161.3,209.4 162.4,209.2 163.0,210.2 163.7,211.1 164.0,212.2 164.4,213.2 164.7,214.3 165.5,215.0 166.5,215.6 167.4,216.1 168.5,216.5 169.5,216.9 170.6,217.1 171.8,217.1 172.9,217.3 173.8,218.0 174.7,218.6 175.5,219.4 175.9,220.4 176.4,221.4 176.6,222.5 176.7,223.6 176.9,224.7 177.1,225.8 177.5,226.9 178.2,227.7 178.9,228.2 179.6,227.4 180.3,226.5 181.1,225.8 182.0,225.1 182.7,224.3 183.4,223.6 184.5,223.2 185.5,223.3 186.4,223.9 187.5,224.3 188.6,224.4 189.7,224.6 190.8,224.8 191.8,225.3 192.7,226.0 193.5,226.8 194.3,227.6 195.4,228.0 196.3,228.6 196.8,229.6 197.5,230.5 198.2,231.3 199.0,232.1 199.6,233.1 200.0,234.1 200.3,235.2 200.7,236.2 201.3,237.2 202.1,238.0 202.9,238.8 203.6,239.6 204.5,240.3 205.4,240.9 206.3,241.6 207.3,242.0 208.4,242.2 209.3,242.9 210.1,243.6 210.9,244.3 211.9,244.8 212.8,245.5 213.4,246.5 214.0,247.4 214.9,248.1 215.9,248.7 216.7,249.4 217.6,250.0 218.7,250.2 219.7,250.5 220.8,250.1 221.8,249.7 222.9,249.6 223.9,249.2 224.6,248.6 225.2,247.7 226.0,246.9 226.5,245.9 227.2,245.0 227.9,244.3 228.6,243.5 229.6,243.0 230.7,242.6 231.6,242.2 232.6,242.4 233.7,242.5 234.7,242.8 235.3,243.8 235.6,244.9 236.1,245.9 236.8,246.7 237.6,247.6 238.1,248.6 238.6,249.5 239.2,250.4 240.1,250.7 241.2,251.1 242.2,251.5 243.2,252.0 244.2,252.4 245.2,252.9 246.2,253.5 247.1,254.2 247.9,254.9 248.5,255.8 249.1,256.9 249.8,257.7 250.7,258.3 251.5,259.1 252.4,259.6 253.6,259.4 254.7,259.2 255.7,258.9 256.8,258.5 257.8,258.2 258.8,257.8 259.9,257.6 261.0,257.4 262.0,256.8 263.0,256.6 264.0,257.0 265.1,257.4 266.2,257.4 267.2,257.8 267.8,258.7 268.5,259.6 268.9,260.6 269.0,261.7 269.4,262.7 269.6,263.8 269.7,264.9 270.1,266.0 270.5,266.9 271.2,267.6 271.9,268.5 272.6,269.4 273.1,270.3 273.8,271.2 274.6,272.0 275.4,272.7 276.3,273.4 277.2,274.0 278.3,274.4 279.3,274.8 280.3,275.3 281.2,275.9 282.1,276.6 283.1,277.0 284.2,277.3 285.2,277.7 286.1,278.4 286.9,279.2 287.5,280.1 288.3,280.8 289.1,281.6 290.1,282.2 291.2,282.5 292.2,283.0 293.1,283.7 294.1,284.2 295.0,284.7 296.0,285.3 296.8,286.0 297.6,286.8 298.4,287.5 299.3,288.2 300.0,289.0 300.7,289.9 301.4,290.8 302.2,291.5 303.0,292.2 303.8,293.1 304.3,294.0 304.7,295.1 305.2,296.1 305.9,297.0 306.3,298.0 306.9,298.9 307.6,299.8 308.1,300.8 308.4,301.9 309.0,302.8 309.5,303.8 309.9,304.8 310.4,305.8 310.8,306.8 311.4,307.8 311.9,308.7 312.3,309.8 312.7,310.8" fill="none" stroke="#fdb23a" stroke-width="1.0"/>
<clipPath id="clipB"><path d="M192.8,334.5 193.6,335.3 194.4,336.0 195.1,336.9 195.7,337.8 196.5,338.6 197.5,339.2 198.3,340.0 198.9,340.9 199.5,341.9 199.7,343.0 199.7,344.2 199.7,345.3 199.9,346.4 199.8,347.3 199.0,348.1 198.2,348.9 197.3,349.5 196.4,350.2 195.3,350.5 194.2,350.8 193.2,351.0 192.1,351.5 191.1,352.0 190.0,352.1 188.9,352.3 187.9,352.9 186.9,353.3 185.8,353.4 184.7,353.7 183.7,354.3 182.9,355.1 182.0,355.7 181.3,356.6 180.7,357.6 179.9,358.3 178.9,357.6 178.0,357.0 177.0,356.4 176.2,355.7 175.4,355.0 174.6,354.2 173.7,353.5 173.0,352.6 172.5,351.7 171.9,350.7 171.1,349.9 170.2,349.3 169.5,348.4 168.8,347.6 168.0,346.8 167.3,345.9 166.5,345.3 165.5,344.8 164.6,344.2 163.7,343.6 162.7,343.1 161.6,342.8 160.5,342.6 159.4,342.5 158.3,342.4 157.2,342.2 156.1,342.1 155.0,341.9 153.9,341.8 152.8,341.7 151.7,341.6 150.7,341.2 149.6,340.8 148.5,340.7 147.5,340.5 146.4,340.1 145.3,340.0 144.2,339.9 143.1,339.9 142.0,340.0 140.8,340.0 139.8,339.8 138.7,339.7 137.6,339.6 136.5,339.4 135.4,339.1 134.3,338.9 133.3,338.5 132.2,338.3 131.1,338.2 130.0,338.1 128.9,337.9 127.9,337.5 126.8,337.2 125.7,337.1 124.6,337.0 123.5,336.6 122.4,336.4 121.4,336.2 120.3,335.9 119.2,335.9 118.1,335.8 117.0,335.8 115.8,335.8 114.8,335.6 113.7,335.2 112.7,334.8 111.7,334.4 110.6,334.2 109.5,334.1 108.3,333.9 107.5,333.2 106.8,332.2 106.0,331.6 105.0,331.0 104.0,330.4 103.1,329.7 102.3,329.0 101.8,328.0 101.3,326.9 100.6,326.1 99.7,325.4 99.0,324.6 98.3,323.8 97.4,323.2 96.7,322.4 95.7,321.8 95.2,321.3 96.1,320.6 97.1,320.1 98.2,319.3 97.3,318.4 96.4,317.7 95.6,317.1 94.9,316.2 94.2,315.3 93.4,314.5 92.4,314.0 91.3,313.6 90.4,313.0 89.6,312.1 88.7,311.5 87.6,311.4 86.5,310.9 85.6,310.3 84.7,309.8 83.6,309.3 82.5,309.4 81.4,309.3 80.4,309.1 79.3,309.1 78.2,309.0 77.1,308.9 76.0,308.8 74.9,308.8 73.8,308.6 72.7,308.5 71.6,308.6 70.5,308.4 69.4,308.2 68.3,308.4 67.2,308.8 66.1,309.2 65.0,309.2 63.9,309.0 62.9,309.0 62.0,308.7 60.9,308.4 59.9,307.9 58.9,307.4 57.8,307.2 56.6,307.3 55.6,307.0 54.6,306.4 53.5,306.0 52.4,306.0 51.3,305.7 50.3,305.3 49.7,304.4 49.3,303.3 49.8,302.4 50.5,301.6 51.1,300.7 51.7,299.8 52.6,299.0 53.2,298.1 53.7,297.1 54.2,296.1 54.6,295.1 54.8,294.0 54.7,292.8 54.6,291.8 54.9,290.7 54.8,289.6 54.7,288.5 54.9,287.4 55.3,286.3 55.7,285.3 55.9,284.3 56.4,283.3 57.6,283.1 58.7,283.1 59.8,283.3 60.9,283.1 60.9,282.0 61.2,281.1 60.8,280.2 60.2,279.3 59.5,278.8 58.5,278.2 57.6,277.7 56.7,277.0 55.8,276.4 55.6,275.5 55.6,274.4 55.5,273.3 55.2,272.4 54.7,271.5 53.9,270.7 53.3,269.8 52.8,268.7 52.7,267.6 52.8,266.4 53.0,265.3 53.9,264.5 54.9,264.0 55.9,263.5 56.8,262.8 57.5,262.0 58.1,261.0 58.3,259.9 58.5,258.9 58.8,257.9 58.8,256.8 58.7,255.7 58.4,254.6 58.4,253.5 58.8,252.4 58.8,251.3 58.6,250.2 58.3,249.1 57.8,248.2 57.2,247.3 56.5,246.5 55.7,245.7 54.7,245.2 53.7,244.8 52.7,244.6 51.6,244.3 50.6,243.8 49.7,243.0 48.8,242.5 48.0,241.6 47.5,240.6 47.2,239.7 46.7,238.7 46.3,237.7 46.0,236.6 45.9,235.6 45.7,234.5 45.5,233.4 45.4,232.3 45.2,231.2 45.4,230.1 45.5,229.0 45.5,227.9 45.7,226.8 45.8,225.7 45.9,224.6 45.9,223.5 46.2,222.4 46.7,221.6 47.5,221.1 48.4,220.2 49.4,220.0 50.5,220.4 51.6,220.4 52.7,220.4 53.8,220.8 54.8,221.1 55.9,221.3 57.0,221.3 58.1,221.1 59.2,220.8 60.3,220.7 61.4,220.9 62.5,221.0 63.6,221.0 64.7,220.9 65.8,220.8 66.9,220.7 68.0,220.4 69.0,219.8 70.0,219.3 70.9,218.8 72.0,218.3 72.9,217.8 73.9,217.2 74.8,216.6 75.8,216.1 76.9,215.9 77.9,215.5 78.8,214.7 79.6,214.0 80.3,213.1 80.8,212.1 81.8,211.5 82.8,211.1 83.7,210.6 84.7,210.1 85.8,210.0 86.9,209.9 88.0,209.7 89.1,209.6 90.2,209.4 91.2,209.1 92.3,208.9 93.4,208.6 94.5,208.4 95.6,208.2 96.7,208.2 97.8,208.2 98.9,208.3 100.0,208.4 101.1,208.4 102.2,208.3 103.3,208.2 104.4,208.2 105.5,208.4 106.6,208.6 107.7,208.7 108.8,208.6 109.9,208.7 111.0,208.5 112.0,208.0 113.1,208.0 114.2,207.8 115.2,207.1 116.2,206.8 117.4,206.8 118.5,206.6 119.6,206.7 120.7,206.7 121.8,206.6 122.9,206.5 124.0,206.3 125.1,206.0 126.1,205.5 127.1,205.1 128.2,204.9 129.3,204.8 130.3,205.2 131.4,205.2 132.6,204.8 133.7,204.7 134.8,204.9 135.8,205.3 136.9,205.8 138.0,205.9 139.1,205.9 140.2,205.8 141.3,205.7 142.4,206.2 143.4,206.8 144.4,207.0 145.5,207.2 146.6,207.5 147.5,208.1 148.6,208.5 149.6,208.8 150.7,208.9 151.8,209.1 152.9,209.3 154.0,209.5 155.0,209.9 156.0,210.3 157.1,210.8 157.7,211.7 158.3,212.7 159.0,212.9 159.3,211.8 159.8,210.8 160.4,209.9 161.3,209.4 162.4,209.2 163.0,210.2 163.7,211.1 164.0,212.2 164.4,213.2 164.7,214.3 165.5,215.0 166.5,215.6 167.4,216.1 168.5,216.5 169.5,216.9 170.6,217.1 171.8,217.1 172.9,217.3 173.8,218.0 174.7,218.6 175.5,219.4 175.9,220.4 176.4,221.4 176.6,222.5 176.7,223.6 176.9,224.7 177.1,225.8 177.5,226.9 178.2,227.7 178.9,228.2 179.6,227.4 180.3,226.5 181.1,225.8 182.0,225.1 182.7,224.3 183.4,223.6 184.5,223.2 185.5,223.3 186.4,223.9 187.5,224.3 188.6,224.4 189.7,224.6 190.8,224.8 191.8,225.3 192.7,226.0 193.5,226.8 194.3,227.6 195.4,228.0 196.3,228.6 196.8,229.6 197.5,230.5 198.2,231.3 199.0,232.1 199.6,233.1 200.0,234.1 200.3,235.2 200.7,236.2 201.3,237.2 202.1,238.0 202.9,238.8 203.6,239.6 204.5,240.3 205.4,240.9 206.3,241.6 207.3,242.0 208.4,242.2 209.3,242.9 210.1,243.6 210.9,244.3 211.9,244.8 212.8,245.5 213.4,246.5 214.0,247.4 214.9,248.1 215.9,248.7 216.7,249.4 217.6,250.0 218.7,250.2 219.7,250.5 220.8,250.1 221.8,249.7 222.9,249.6 223.9,249.2 224.6,248.6 225.2,247.7 226.0,246.9 226.5,245.9 227.2,245.0 227.9,244.3 228.6,243.5 229.6,243.0 230.7,242.6 231.6,242.2 232.6,242.4 233.7,242.5 234.7,242.8 235.3,243.8 235.6,244.9 236.1,245.9 236.8,246.7 237.6,247.6 238.1,248.6 238.6,249.5 239.2,250.4 240.1,250.7 241.2,251.1 242.2,251.5 243.2,252.0 244.2,252.4 245.2,252.9 246.2,253.5 247.1,254.2 247.9,254.9 248.5,255.8 249.1,256.9 249.8,257.7 250.7,258.3 251.5,259.1 252.4,259.6 253.6,259.4 254.7,259.2 255.7,258.9 256.8,258.5 257.8,258.2 258.8,257.8 259.9,257.6 261.0,257.4 262.0,256.8 263.0,256.6 264.0,257.0 265.1,257.4 266.2,257.4 267.2,257.8 267.8,258.7 268.5,259.6 268.9,260.6 269.0,261.7 269.4,262.7 269.6,263.8 269.7,264.9 270.1,266.0 270.5,266.9 271.2,267.6 271.9,268.5 272.6,269.4 273.1,270.3 273.8,271.2 274.6,272.0 275.4,272.7 276.3,273.4 277.2,274.0 278.3,274.4 279.3,274.8 280.3,275.3 281.2,275.9 282.1,276.6 283.1,277.0 284.2,277.3 285.2,277.7 286.1,278.4 286.9,279.2 287.5,280.1 288.3,280.8 289.1,281.6 290.1,282.2 291.2,282.5 292.2,283.0 293.1,283.7 294.1,284.2 295.0,284.7 296.0,285.3 296.8,286.0 297.6,286.8 298.4,287.5 299.3,288.2 300.0,289.0 300.7,289.9 301.4,290.8 302.2,291.5 303.0,292.2 303.8,293.1 304.3,294.0 304.7,295.1 305.2,296.1 305.9,297.0 306.3,298.0 306.9,298.9 307.6,299.8 308.1,300.8 308.4,301.9 309.0,302.8 309.5,303.8 309.9,304.8 310.4,305.8 310.8,306.8 311.4,307.8 311.9,308.7 312.3,309.8 312.7,310.8 309.0,308.5 305.6,306.9 299.4,305.4 287.0,304.5 271.0,304.7 258.8,305.5 249.0,308.0 240.0,310.8 232.9,313.5 223.8,317.2 214.6,321.7 205.5,327.2 196.4,331.8Z"/></clipPath><g clip-path="url(#clipB)">
<path d="M192.8,334.5 193.6,335.3 194.4,336.0 195.1,336.9 195.7,337.8 196.5,338.6 197.5,339.2 198.3,340.0 198.9,340.9 199.5,341.9 199.7,343.0 199.7,344.2 199.7,345.3 199.9,346.4 199.8,347.3 199.0,348.1 198.2,348.9 197.3,349.5 196.4,350.2 195.3,350.5 194.2,350.8 193.2,351.0 192.1,351.5 191.1,352.0 190.0,352.1 188.9,352.3 187.9,352.9 186.9,353.3 185.8,353.4 184.7,353.7 183.7,354.3 182.9,355.1 182.0,355.7 181.3,356.6 180.7,357.6 179.9,358.3 178.9,357.6 178.0,357.0 177.0,356.4 176.2,355.7 175.4,355.0 174.6,354.2 173.7,353.5 173.0,352.6 172.5,351.7 171.9,350.7 171.1,349.9 170.2,349.3 169.5,348.4 168.8,347.6 168.0,346.8 167.3,345.9 166.5,345.3 165.5,344.8 164.6,344.2 163.7,343.6 162.7,343.1 161.6,342.8 160.5,342.6 159.4,342.5 158.3,342.4 157.2,342.2 156.1,342.1 155.0,341.9 153.9,341.8 152.8,341.7 151.7,341.6 150.7,341.2 149.6,340.8 148.5,340.7 147.5,340.5 146.4,340.1 145.3,340.0 144.2,339.9 143.1,339.9 142.0,340.0 140.8,340.0 139.8,339.8 138.7,339.7 137.6,339.6 136.5,339.4 135.4,339.1 134.3,338.9 133.3,338.5 132.2,338.3 131.1,338.2 130.0,338.1 128.9,337.9 127.9,337.5 126.8,337.2 125.7,337.1 124.6,337.0 123.5,336.6 122.4,336.4 121.4,336.2 120.3,335.9 119.2,335.9 118.1,335.8 117.0,335.8 115.8,335.8 114.8,335.6 113.7,335.2 112.7,334.8 111.7,334.4 110.6,334.2 109.5,334.1 108.3,333.9 107.5,333.2 106.8,332.2 106.0,331.6 105.0,331.0 104.0,330.4 103.1,329.7 102.3,329.0 101.8,328.0 101.3,326.9 100.6,326.1 99.7,325.4 99.0,324.6 98.3,323.8 97.4,323.2 96.7,322.4 95.7,321.8 95.2,321.3 96.1,320.6 97.1,320.1 98.2,319.3 97.3,318.4 96.4,317.7 95.6,317.1 94.9,316.2 94.2,315.3 93.4,314.5 92.4,314.0 91.3,313.6 90.4,313.0 89.6,312.1 88.7,311.5 87.6,311.4 86.5,310.9 85.6,310.3 84.7,309.8 83.6,309.3 82.5,309.4 81.4,309.3 80.4,309.1 79.3,309.1 78.2,309.0 77.1,308.9 76.0,308.8 74.9,308.8 73.8,308.6 72.7,308.5 71.6,308.6 70.5,308.4 69.4,308.2 68.3,308.4 67.2,308.8 66.1,309.2 65.0,309.2 63.9,309.0 62.9,309.0 62.0,308.7 60.9,308.4 59.9,307.9 58.9,307.4 57.8,307.2 56.6,307.3 55.6,307.0 54.6,306.4 53.5,306.0 52.4,306.0 51.3,305.7 50.3,305.3 49.7,304.4 49.3,303.3 49.8,302.4 50.5,301.6 51.1,300.7 51.7,299.8 52.6,299.0 53.2,298.1 53.7,297.1 54.2,296.1 54.6,295.1 54.8,294.0 54.7,292.8 54.6,291.8 54.9,290.7 54.8,289.6 54.7,288.5 54.9,287.4 55.3,286.3 55.7,285.3 55.9,284.3 56.4,283.3 57.6,283.1 58.7,283.1 59.8,283.3 60.9,283.1 60.9,282.0 61.2,281.1 60.8,280.2 60.2,279.3 59.5,278.8 58.5,278.2 57.6,277.7 56.7,277.0 55.8,276.4 55.6,275.5 55.6,274.4 55.5,273.3 55.2,272.4 54.7,271.5 53.9,270.7 53.3,269.8 52.8,268.7 52.7,267.6 52.8,266.4 53.0,265.3 53.9,264.5 54.9,264.0 55.9,263.5 56.8,262.8 57.5,262.0 58.1,261.0 58.3,259.9 58.5,258.9 58.8,257.9 58.8,256.8 58.7,255.7 58.4,254.6 58.4,253.5 58.8,252.4 58.8,251.3 58.6,250.2 58.3,249.1 57.8,248.2 57.2,247.3 56.5,246.5 55.7,245.7 54.7,245.2 53.7,244.8 52.7,244.6 51.6,244.3 50.6,243.8 49.7,243.0 48.8,242.5 48.0,241.6 47.5,240.6 47.2,239.7 46.7,238.7 46.3,237.7 46.0,236.6 45.9,235.6 45.7,234.5 45.5,233.4 45.4,232.3 45.2,231.2 45.4,230.1 45.5,229.0 45.5,227.9 45.7,226.8 45.8,225.7 45.9,224.6 45.9,223.5 46.2,222.4 46.7,221.6 47.5,221.1 48.4,220.2 49.4,220.0 50.5,220.4 51.6,220.4 52.7,220.4 53.8,220.8 54.8,221.1 55.9,221.3 57.0,221.3 58.1,221.1 59.2,220.8 60.3,220.7 61.4,220.9 62.5,221.0 63.6,221.0 64.7,220.9 65.8,220.8 66.9,220.7 68.0,220.4 69.0,219.8 70.0,219.3 70.9,218.8 72.0,218.3 72.9,217.8 73.9,217.2 74.8,216.6 75.8,216.1 76.9,215.9 77.9,215.5 78.8,214.7 79.6,214.0 80.3,213.1 80.8,212.1 81.8,211.5 82.8,211.1 83.7,210.6 84.7,210.1 85.8,210.0 86.9,209.9 88.0,209.7 89.1,209.6 90.2,209.4 91.2,209.1 92.3,208.9 93.4,208.6 94.5,208.4 95.6,208.2 96.7,208.2 97.8,208.2 98.9,208.3 100.0,208.4 101.1,208.4 102.2,208.3 103.3,208.2 104.4,208.2 105.5,208.4 106.6,208.6 107.7,208.7 108.8,208.6 109.9,208.7 111.0,208.5 112.0,208.0 113.1,208.0 114.2,207.8 115.2,207.1 116.2,206.8 117.4,206.8 118.5,206.6 119.6,206.7 120.7,206.7 121.8,206.6 122.9,206.5 124.0,206.3 125.1,206.0 126.1,205.5 127.1,205.1 128.2,204.9 129.3,204.8 130.3,205.2 131.4,205.2 132.6,204.8 133.7,204.7 134.8,204.9 135.8,205.3 136.9,205.8 138.0,205.9 139.1,205.9 140.2,205.8 141.3,205.7 142.4,206.2 143.4,206.8 144.4,207.0 145.5,207.2 146.6,207.5 147.5,208.1 148.6,208.5 149.6,208.8 150.7,208.9 151.8,209.1 152.9,209.3 154.0,209.5 155.0,209.9 156.0,210.3 157.1,210.8 157.7,211.7 158.3,212.7 159.0,212.9 159.3,211.8 159.8,210.8 160.4,209.9 161.3,209.4 162.4,209.2 163.0,210.2 163.7,211.1 164.0,212.2 164.4,213.2 164.7,214.3 165.5,215.0 166.5,215.6 167.4,216.1 168.5,216.5 169.5,216.9 170.6,217.1 171.8,217.1 172.9,217.3 173.8,218.0 174.7,218.6 175.5,219.4 175.9,220.4 176.4,221.4 176.6,222.5 176.7,223.6 176.9,224.7 177.1,225.8 177.5,226.9 178.2,227.7 178.9,228.2 179.6,227.4 180.3,226.5 181.1,225.8 182.0,225.1 182.7,224.3 183.4,223.6 184.5,223.2 185.5,223.3 186.4,223.9 187.5,224.3 188.6,224.4 189.7,224.6 190.8,224.8 191.8,225.3 192.7,226.0 193.5,226.8 194.3,227.6 195.4,228.0 196.3,228.6 196.8,229.6 197.5,230.5 198.2,231.3 199.0,232.1 199.6,233.1 200.0,234.1 200.3,235.2 200.7,236.2 201.3,237.2 202.1,238.0 202.9,238.8 203.6,239.6 204.5,240.3 205.4,240.9 206.3,241.6 207.3,242.0 208.4,242.2 209.3,242.9 210.1,243.6 210.9,244.3 211.9,244.8 212.8,245.5 213.4,246.5 214.0,247.4 214.9,248.1 215.9,248.7 216.7,249.4 217.6,250.0 218.7,250.2 219.7,250.5 220.8,250.1 221.8,249.7 222.9,249.6 223.9,249.2 224.6,248.6 225.2,247.7 226.0,246.9 226.5,245.9 227.2,245.0 227.9,244.3 228.6,243.5 229.6,243.0 230.7,242.6 231.6,242.2 232.6,242.4 233.7,242.5 234.7,242.8 235.3,243.8 235.6,244.9 236.1,245.9 236.8,246.7 237.6,247.6 238.1,248.6 238.6,249.5 239.2,250.4 240.1,250.7 241.2,251.1 242.2,251.5 243.2,252.0 244.2,252.4 245.2,252.9 246.2,253.5 247.1,254.2 247.9,254.9 248.5,255.8 249.1,256.9 249.8,257.7 250.7,258.3 251.5,259.1 252.4,259.6 253.6,259.4 254.7,259.2 255.7,258.9 256.8,258.5 257.8,258.2 258.8,257.8 259.9,257.6 261.0,257.4 262.0,256.8 263.0,256.6 264.0,257.0 265.1,257.4 266.2,257.4 267.2,257.8 267.8,258.7 268.5,259.6 268.9,260.6 269.0,261.7 269.4,262.7 269.6,263.8 269.7,264.9 270.1,266.0 270.5,266.9 271.2,267.6 271.9,268.5 272.6,269.4 273.1,270.3 273.8,271.2 274.6,272.0 275.4,272.7 276.3,273.4 277.2,274.0 278.3,274.4 279.3,274.8 280.3,275.3 281.2,275.9 282.1,276.6 283.1,277.0 284.2,277.3 285.2,277.7 286.1,278.4 286.9,279.2 287.5,280.1 288.3,280.8 289.1,281.6 290.1,282.2 291.2,282.5 292.2,283.0 293.1,283.7 294.1,284.2 295.0,284.7 296.0,285.3 296.8,286.0 297.6,286.8 298.4,287.5 299.3,288.2 300.0,289.0 300.7,289.9 301.4,290.8 302.2,291.5 303.0,292.2 303.8,293.1 304.3,294.0 304.7,295.1 305.2,296.1 305.9,297.0 306.3,298.0 306.9,298.9 307.6,299.8 308.1,300.8 308.4,301.9 309.0,302.8 309.5,303.8 309.9,304.8 310.4,305.8 310.8,306.8 311.4,307.8 311.9,308.7 312.3,309.8 312.7,310.8 316.0,319.5 311.0,331.5 295.0,339.5 270.0,343.5 245.0,343.5 222.0,341.5 205.0,339.5Z" fill="#fdb23a"/>
<path d="M179.6,355.7 178.9,355.4 174.7,352.4 167.6,345.1 162.9,342.9 159.9,342.1 144.9,339.6 132.6,338.3 119.4,335.6 112.4,334.7 108.4,333.2 103.8,329.9 98.9,323.8 95.6,321.6 95.9,321.1 97.7,319.4 96.7,317.4 96.2,316.9 92.1,314.3 89.1,312.0 83.9,309.5 80.3,309.4 76.4,308.6 67.1,308.3 62.9,308.6 60.1,307.1 54.6,305.7 50.9,304.1 50.6,303.4 50.7,302.9 53.9,297.9 55.5,293.4 55.3,287.9 55.6,285.9 56.1,284.7 56.6,284.0 60.6,283.4 61.2,282.6 61.6,281.1 60.1,278.5 57.4,277.2 56.1,276.1 55.9,275.6 56.1,272.9 54.5,270.6 53.4,268.4 53.9,265.6 57.6,261.8 59.1,258.9 58.6,254.1 58.8,251.1 57.8,247.9 57.1,246.9 54.1,244.5 50.5,243.1 47.9,240.8 47.5,240.1 46.5,236.6 45.7,230.4 46.5,224.1 47.3,221.9 49.4,220.9 57.1,221.5 61.3,220.6 66.6,220.5 67.6,220.0 68.4,219.9 69.9,219.4 74.4,217.1 77.6,215.8 81.0,212.4 84.9,210.3 100.9,208.4 103.6,208.3 109.1,208.6 112.9,208.3 116.4,207.1 124.9,206.3 128.9,204.9 132.9,205.2 137.6,206.1 140.6,206.2 144.4,206.8 150.4,209.4 153.4,209.7 156.9,210.9 158.9,213.0 160.9,209.9 162.4,209.8 163.6,211.3 164.4,213.9 164.9,214.6 167.9,216.3 172.4,217.5 175.1,219.4 176.5,222.4 177.4,226.1 178.6,228.3 182.9,224.1 184.6,223.8 185.4,223.8 187.9,225.0 190.1,225.4 192.3,226.6 196.2,229.6 199.4,233.7 201.2,237.1 203.9,240.3 206.1,241.7 209.9,243.6 217.1,250.3 219.1,250.9 219.9,250.9 224.4,249.6 225.0,249.1 227.5,245.4 228.1,244.9 231.4,243.0 233.9,243.3 234.4,243.5 235.6,245.3 238.9,250.9 244.1,252.9 247.4,255.6 251.9,260.0 253.1,260.1 255.9,259.5 262.6,257.4 266.6,258.4 268.6,261.0 270.1,267.1 273.1,270.8 277.6,274.6 281.4,276.9 286.5,279.4 290.0,282.4 295.1,285.4 299.1,288.6 302.6,292.6 303.9,294.2 305.5,297.1 310.4,306.4 315.5,319.4 315.4,320.1 313.1,325.6 310.4,331.1 294.6,338.7 269.4,342.6 246.4,342.6 222.9,340.4 211.4,339.0 205.6,338.6 196.9,337.4 196.1,337.9 195.9,338.9 198.1,342.4 198.6,346.1 198.4,346.7 195.6,348.7 185.1,352.0 179.6,355.7Z" fill="#fcf844" fill-rule="evenodd"/>
<path d="M132.1,328.2 128.9,328.2 120.1,326.6 117.9,325.8 113.4,325.1 110.1,324.2 101.8,320.9 99.4,319.4 96.4,316.5 89.9,311.5 87.4,309.9 80.3,306.1 75.6,303.1 73.0,301.1 70.5,298.6 69.8,297.6 67.1,292.6 66.3,289.4 65.6,282.1 62.5,268.4 62.1,261.9 61.2,256.4 59.9,243.6 59.8,237.9 60.0,236.6 60.0,230.6 60.3,228.6 60.7,227.1 61.9,224.6 63.9,222.8 68.4,220.6 73.3,218.9 80.1,216.7 84.9,215.7 86.9,215.1 96.9,213.1 98.6,213.0 107.4,211.4 109.6,211.4 121.4,209.6 124.1,209.6 128.6,209.1 134.4,209.1 136.1,209.4 142.8,211.4 144.9,212.5 148.4,213.7 155.6,214.9 161.9,216.2 165.1,217.5 168.1,219.2 171.1,221.3 174.4,225.4 176.3,229.6 177.6,231.4 181.4,233.2 183.7,235.4 187.1,236.5 192.2,239.9 194.7,242.4 196.6,244.6 197.9,246.6 204.1,253.3 205.9,254.5 208.1,255.6 214.4,260.0 216.4,260.6 220.9,260.7 222.6,260.0 224.9,258.6 227.2,257.6 229.4,257.0 231.4,257.3 234.1,258.9 236.6,260.9 244.9,269.6 246.9,271.3 247.9,271.8 249.4,272.4 251.1,272.7 253.4,272.7 256.9,271.7 258.6,270.9 261.1,270.6 263.3,271.1 264.7,271.9 265.9,273.3 267.9,277.1 269.7,281.4 270.6,282.6 272.4,284.4 277.4,288.3 280.4,290.3 281.8,290.9 288.5,295.4 292.9,299.2 299.0,306.6 300.9,309.6 302.4,312.6 302.8,314.4 303.8,317.1 303.6,317.9 302.6,318.7 299.9,319.9 280.9,321.5 260.6,322.0 250.4,321.3 245.6,320.8 241.6,320.1 235.4,318.1 233.4,316.6 231.9,313.6 230.6,307.6 229.8,306.1 228.1,304.7 226.6,303.8 221.1,301.1 215.4,297.3 211.9,295.6 193.4,288.1 184.6,285.9 176.8,283.4 173.4,282.6 169.4,282.2 165.6,282.2 161.4,281.8 160.4,282.0 158.9,283.1 157.6,285.3 156.1,288.5 155.7,289.9 154.1,292.5 146.6,307.7 145.5,310.4 144.6,311.9 141.8,318.6 139.1,324.1 138.2,325.4 137.4,326.0 135.3,327.1 132.1,328.2ZM186.4,336.7 184.1,336.8 182.1,336.4 180.4,335.5 179.0,334.1 178.4,332.6 178.4,330.9 179.1,329.4 180.4,328.1 182.9,327.0 185.9,326.9 188.6,327.8 190.5,329.4 191.0,330.4 191.3,331.6 191.1,332.9 190.7,333.9 189.0,335.6 186.4,336.7Z" fill="#b4d68c" fill-rule="evenodd"/>
<path d="M124.9,312.2 118.6,312.2 114.9,311.6 108.1,309.5 104.8,307.9 96.4,303.0 83.1,298.2 80.4,296.9 79.0,295.9 77.1,293.3 75.6,289.7 74.7,286.1 74.9,283.6 74.3,280.1 72.1,269.9 70.2,263.4 69.9,260.9 69.9,256.6 70.6,250.6 70.6,247.9 71.1,245.4 71.1,240.4 70.8,238.1 71.4,230.1 72.9,226.5 74.1,225.3 77.1,223.6 82.1,222.2 84.9,221.8 86.6,221.2 91.3,220.4 94.1,220.3 96.9,219.6 101.1,219.3 104.4,218.6 109.6,218.3 113.6,217.6 116.6,217.5 121.1,216.8 123.9,216.8 128.6,216.3 132.6,216.3 134.6,216.6 136.1,216.9 140.4,218.3 143.9,218.9 148.4,220.3 155.6,221.4 161.9,223.0 165.1,224.1 170.4,226.6 172.6,228.4 175.4,231.6 179.2,238.9 180.4,240.6 185.6,251.9 187.7,259.4 188.2,263.1 188.2,266.6 187.4,269.6 186.0,272.1 181.4,275.4 178.1,276.9 167.9,279.4 161.6,279.9 158.6,281.4 156.1,283.5 152.1,287.9 150.7,289.1 147.5,292.9 146.1,294.9 140.8,300.1 135.1,307.0 131.1,310.1 128.4,311.6 124.9,312.2Z" fill="#63b5a9" fill-rule="evenodd"/>
<path d="M115.6,278.9 111.4,278.9 107.9,278.2 103.1,276.4 101.9,275.5 100.8,274.1 99.4,270.6 98.7,265.6 95.6,260.6 92.5,256.6 91.1,253.7 89.4,248.1 88.9,245.4 89.6,241.1 89.4,238.1 90.3,236.4 91.9,235.0 96.1,233.2 109.9,229.6 116.4,228.6 120.6,228.6 122.9,228.8 124.9,229.1 134.6,231.2 136.4,231.3 145.4,233.5 148.9,234.7 154.9,237.7 159.3,240.6 162.3,243.4 163.7,245.4 165.2,248.6 165.5,250.1 165.5,252.4 164.9,254.4 164.0,256.1 163.0,257.4 161.0,259.1 155.9,262.1 141.2,268.1 135.2,271.1 129.9,274.6 126.9,276.0 122.4,277.6 119.4,278.3 115.6,278.9Z" fill="#0b8bc9" fill-rule="evenodd"/>
<path d="M179.9,345.9 176.6,345.6 173.4,345.0 169.1,342.3 164.6,340.5 161.6,339.7 143.6,336.7 139.6,336.2 133.4,335.7 118.1,332.5 113.1,331.7 110.6,330.9 109.1,330.2 105.4,327.9 99.9,322.9 98.0,321.6 97.7,321.1 98.0,319.9 97.9,319.4 96.8,317.4 96.1,316.7 95.9,316.7 89.1,311.9 83.6,309.1 80.9,308.5 76.9,307.3 64.0,304.1 59.1,301.0 58.9,300.4 59.4,293.9 58.9,289.1 59.0,287.9 59.4,287.1 61.4,285.7 62.1,284.7 62.7,282.9 62.8,281.1 61.4,277.6 58.8,274.9 58.3,271.9 56.9,269.1 56.6,268.1 56.7,267.1 59.1,262.4 59.8,259.1 59.3,253.9 59.3,251.4 58.8,248.4 58.1,246.4 55.4,242.5 52.4,239.6 51.4,237.9 51.0,235.9 50.6,230.4 51.0,226.6 51.4,225.9 55.9,224.3 61.6,221.7 66.1,220.8 69.9,219.5 73.1,218.0 77.9,216.2 81.9,213.5 85.4,211.9 96.1,210.3 103.6,209.5 110.4,209.4 112.9,209.1 116.9,208.1 125.1,207.3 128.9,206.4 130.1,206.3 135.1,206.8 143.9,208.3 149.6,210.8 153.1,211.3 156.1,212.2 158.6,213.8 159.6,213.7 161.4,212.5 161.9,212.4 164.1,215.1 167.4,216.9 171.9,218.7 173.9,220.2 175.1,222.2 176.9,226.8 177.7,228.6 178.1,229.1 178.9,229.5 179.6,229.4 182.6,228.1 184.9,227.5 187.1,228.6 189.1,229.3 190.8,230.1 193.5,232.1 196.2,234.9 199.8,239.9 202.4,242.9 207.7,246.6 214.9,252.6 216.1,253.4 217.4,253.9 218.4,254.1 220.6,253.9 226.2,251.9 230.6,248.5 231.4,248.2 231.9,248.2 233.4,249.4 236.9,253.2 238.1,254.0 242.4,256.2 245.1,258.6 249.1,262.8 250.9,263.9 251.9,264.2 253.6,264.0 262.9,261.9 263.6,262.0 264.3,262.4 264.9,262.9 268.1,268.4 271.6,272.8 275.8,277.6 279.4,280.0 284.4,282.9 287.9,285.6 292.9,288.6 296.5,291.6 299.5,294.9 300.9,296.6 304.4,302.1 306.9,306.6 308.6,310.4 310.2,314.6 311.2,318.1 311.4,319.6 310.7,321.4 309.3,324.1 307.3,327.1 306.4,327.9 302.6,329.6 292.9,332.9 268.1,335.7 259.6,335.8 248.1,335.5 238.4,334.5 229.6,333.2 224.1,332.0 204.1,326.4 201.1,326.2 198.6,326.4 197.4,326.9 195.9,327.8 194.6,329.0 193.6,330.3 192.1,333.0 192.1,333.4 191.5,334.4 189.2,339.9 187.9,342.4 186.1,343.3 179.9,345.9ZM185.9,337.5 183.6,337.5 183.4,337.3 182.4,337.3 182.1,337.1 181.6,337.1 180.6,336.6 179.6,335.8 179.4,335.8 178.4,334.9 178.4,334.6 177.9,334.1 177.6,333.5 176.8,334.1 175.6,334.6 171.9,335.5 168.9,335.7 163.9,335.4 157.4,334.7 145.9,332.8 140.4,332.4 133.6,332.5 130.9,332.2 112.4,328.2 109.4,327.0 107.9,326.2 104.4,324.3 99.9,321.4 99.4,320.9 98.2,319.1 96.1,316.7 95.9,316.6 88.9,311.4 83.9,308.7 79.6,307.0 71.6,303.3 67.6,300.8 65.0,298.6 64.4,297.6 62.9,291.1 64.2,284.4 64.1,281.4 62.4,275.9 61.1,273.1 60.6,270.8 59.8,268.4 60.6,262.6 60.7,258.9 60.4,256.6 59.6,248.4 59.0,245.4 56.2,237.1 55.5,234.4 55.5,231.6 55.6,230.9 57.3,227.9 59.6,224.9 61.1,223.4 63.4,222.1 66.1,221.2 68.6,220.1 77.9,216.8 82.9,214.6 86.1,213.5 96.4,211.7 98.1,211.6 103.9,210.7 109.4,210.4 114.4,209.7 117.1,209.1 123.6,208.6 129.1,207.7 133.9,207.9 136.6,208.3 143.4,209.9 145.4,210.9 149.1,212.3 154.6,213.2 158.4,214.6 159.4,214.7 161.6,214.7 163.9,216.1 165.4,216.7 166.9,217.6 169.4,218.8 171.6,220.1 172.6,221.0 174.1,223.0 175.3,225.1 176.9,229.1 177.9,230.3 178.9,230.8 183.1,231.4 185.1,232.2 188.1,233.0 190.8,234.6 194.1,237.4 200.4,245.0 204.9,249.1 206.4,250.4 209.6,252.5 213.1,255.3 215.8,256.9 217.4,257.3 220.1,257.3 221.4,257.0 223.6,255.8 228.6,254.0 230.4,253.5 231.6,253.5 232.9,254.1 240.2,259.1 242.1,260.9 246.8,265.9 249.4,267.8 251.1,268.3 252.6,268.4 255.4,267.8 257.9,266.9 261.1,266.4 261.9,266.6 263.6,267.7 265.4,269.0 267.4,271.0 270.7,275.9 272.6,279.1 273.8,280.6 279.4,284.6 283.9,287.3 286.6,289.4 290.7,291.9 294.1,294.7 296.2,296.9 301.9,304.4 303.9,307.8 305.6,311.4 307.4,316.6 307.5,318.4 307.1,320.1 305.1,322.5 303.4,323.9 300.9,325.0 292.4,326.8 281.6,327.9 266.4,329.0 254.1,328.8 244.6,328.0 239.6,327.2 235.9,326.4 232.1,325.5 230.4,324.8 227.7,323.4 224.9,321.4 221.9,318.1 218.9,314.1 214.1,312.3 207.9,309.3 203.4,307.6 192.4,304.6 187.4,303.6 174.6,302.8 171.6,302.0 170.9,302.0 168.1,304.6 165.6,307.4 163.8,309.6 162.4,311.9 161.5,313.6 161.0,315.4 160.9,317.1 161.4,318.9 162.4,320.6 164.4,322.4 168.1,324.4 174.5,327.4 176.1,328.4 177.6,329.9 178.1,329.4 178.1,329.1 179.9,327.4 181.9,326.4 182.6,326.5 182.9,326.2 186.9,326.2 187.1,326.5 187.6,326.5 187.9,326.7 188.4,326.7 188.9,327.0 189.4,327.2 190.1,328.0 190.4,328.0 191.0,328.6 191.0,328.9 191.5,329.4 192.0,330.4 192.0,331.1 192.2,331.4 192.2,331.9 192.2,332.4 192.0,332.6 192.0,333.4 191.2,334.4 191.2,334.6 189.9,336.0 189.6,336.0 188.6,336.8 188.1,336.8 187.1,337.3 186.1,337.3 185.9,337.5ZM132.1,328.2 130.1,328.4 128.9,328.2 127.6,327.9 125.4,327.6 120.1,326.6 117.9,325.8 113.4,325.1 111.1,324.4 110.1,324.2 108.1,323.3 105.1,322.3 101.8,320.9 99.4,319.4 97.6,317.9 96.4,316.5 89.9,311.5 87.4,309.9 80.3,306.1 75.6,303.1 73.0,301.1 70.5,298.6 69.8,297.6 67.1,292.6 66.3,289.4 65.8,286.1 65.8,283.6 65.6,282.1 64.1,276.1 63.8,273.6 62.5,268.4 62.1,261.9 61.7,259.9 61.6,258.4 61.2,256.4 61.2,254.6 60.5,250.4 60.4,247.9 59.9,243.6 59.8,237.9 60.0,236.6 60.0,230.6 60.3,228.6 60.7,227.1 61.9,224.6 63.9,222.8 66.4,221.8 68.4,220.6 73.3,218.9 80.1,216.7 81.4,216.5 83.6,215.8 84.9,215.7 86.9,215.1 90.4,214.5 92.9,213.8 94.1,213.8 96.9,213.1 98.6,213.0 107.4,211.4 109.6,211.4 121.4,209.6 124.1,209.6 128.6,209.1 134.4,209.1 136.1,209.4 142.8,211.4 144.9,212.5 148.4,213.7 155.6,214.9 161.9,216.2 163.6,217.0 165.1,217.5 168.1,219.2 171.1,221.3 173.0,223.4 174.4,225.4 176.3,229.6 177.6,231.4 181.4,233.2 183.7,235.4 187.1,236.5 188.9,237.5 192.2,239.9 194.7,242.4 196.6,244.6 197.9,246.6 199.6,248.4 202.1,251.3 204.1,253.3 205.9,254.5 208.1,255.6 214.4,260.0 216.4,260.6 220.9,260.7 222.6,260.0 224.9,258.6 227.2,257.6 229.4,257.0 231.4,257.3 234.1,258.9 236.6,260.9 244.9,269.6 246.9,271.3 247.9,271.8 249.4,272.4 251.1,272.7 253.4,272.7 256.9,271.7 258.6,270.9 261.1,270.6 263.3,271.1 264.7,271.9 265.9,273.3 267.9,277.1 269.7,281.4 270.6,282.6 272.4,284.4 277.4,288.3 280.4,290.3 281.8,290.9 284.4,292.8 288.5,295.4 292.9,299.2 294.3,301.1 299.0,306.6 300.9,309.6 302.4,312.6 302.8,314.4 303.8,317.1 303.6,317.9 302.6,318.7 299.9,319.9 298.1,320.0 294.9,320.5 292.6,320.5 291.6,320.7 289.4,320.8 288.4,321.0 281.9,321.3 280.9,321.5 274.4,321.5 273.1,321.8 260.6,322.0 259.4,321.8 255.1,321.8 251.9,321.3 250.4,321.3 245.6,320.8 241.6,320.1 237.4,318.9 235.4,318.1 233.4,316.6 231.9,313.6 231.1,310.4 231.1,309.4 230.6,307.6 229.8,306.1 228.1,304.7 226.6,303.8 221.1,301.1 215.4,297.3 211.9,295.6 208.6,294.1 201.4,291.5 198.1,289.9 195.4,289.0 193.4,288.1 191.1,287.4 189.1,287.1 185.9,286.1 184.6,285.9 176.8,283.4 175.6,283.3 173.4,282.6 172.1,282.6 169.4,282.2 165.6,282.2 161.4,281.8 160.4,282.0 158.9,283.1 157.6,285.3 156.1,288.5 155.7,289.9 154.1,292.5 151.0,299.1 146.6,307.7 145.5,310.4 144.6,311.9 141.8,318.6 139.1,324.1 138.2,325.4 137.4,326.0 135.3,327.1 132.1,328.2ZM186.4,336.7 184.1,336.8 182.1,336.4 180.4,335.5 179.0,334.1 178.4,332.6 178.4,330.9 179.1,329.4 180.4,328.1 181.6,327.4 182.9,327.0 184.4,326.8 185.9,326.9 187.4,327.2 188.6,327.8 189.6,328.5 190.5,329.4 191.0,330.4 191.3,331.6 191.1,332.9 190.7,333.9 189.9,334.9 189.0,335.6 187.9,336.2 186.4,336.7ZM130.4,323.0 129.4,323.1 126.6,322.9 114.4,320.8 111.4,320.0 107.1,318.6 103.6,317.1 100.9,315.6 96.4,312.1 91.6,309.0 81.4,303.7 77.2,301.1 74.4,298.9 72.9,297.2 72.1,296.1 69.9,291.6 69.1,288.6 68.3,281.4 67.0,275.6 64.9,265.1 63.9,255.9 63.9,254.1 63.6,249.9 63.6,244.1 63.4,238.9 63.7,231.6 64.1,228.4 64.6,226.9 65.6,225.5 69.6,222.4 76.1,219.7 80.6,218.4 88.6,216.7 106.6,213.7 110.1,213.4 121.9,211.9 129.4,211.4 133.6,211.4 135.6,211.7 141.9,213.5 147.6,215.5 149.6,216.0 156.6,217.1 161.0,218.1 164.4,219.3 167.0,220.6 169.1,221.9 171.9,224.1 173.8,226.4 175.9,230.1 177.4,232.0 180.4,234.3 182.8,237.1 187.1,240.1 190.1,243.1 192.9,246.9 200.4,258.3 204.1,262.5 208.9,268.6 211.1,271.1 213.6,273.3 215.9,274.8 222.1,278.2 226.5,279.9 226.7,280.1 226.4,280.4 214.6,280.7 205.1,281.5 192.9,281.7 190.1,281.9 185.1,282.0 173.9,281.0 169.9,281.0 165.6,281.2 162.1,281.0 160.2,281.4 158.4,282.7 156.8,284.9 154.9,287.9 154.1,289.6 152.8,291.4 148.9,298.1 146.4,301.9 142.6,308.4 137.5,315.9 133.9,320.9 132.1,322.2 130.4,323.0ZM128.9,317.1 125.1,317.3 117.6,316.7 113.4,315.9 106.6,313.7 102.6,311.6 99.6,309.5 94.9,306.6 85.1,302.1 82.1,300.9 78.9,299.1 76.7,297.4 74.6,294.9 73.5,292.6 72.6,290.4 71.8,286.9 71.7,283.9 71.3,280.9 68.9,269.9 67.5,264.4 67.2,261.6 66.9,255.9 67.1,247.4 67.4,244.4 67.1,239.1 67.4,232.6 67.7,229.4 68.0,228.6 70.2,225.4 72.8,223.4 76.4,221.6 81.1,220.3 84.1,219.8 87.6,218.9 90.6,218.4 93.4,218.2 96.4,217.5 100.4,217.1 104.1,216.4 110.6,215.8 113.4,215.3 115.9,215.2 120.6,214.5 129.6,213.9 133.1,213.9 135.1,214.2 137.1,214.6 148.9,218.1 156.1,219.2 159.6,220.1 164.1,221.4 168.9,223.9 171.1,225.3 173.3,227.4 176.5,231.9 179.5,235.6 181.1,238.2 184.4,241.9 188.1,247.1 189.8,250.4 191.8,254.6 194.6,261.9 196.4,268.4 196.7,269.9 196.2,270.6 194.1,272.9 190.9,275.4 189.4,276.2 186.1,277.4 183.1,278.3 178.9,279.2 170.1,280.0 168.1,280.4 161.9,280.6 159.9,281.3 158.4,282.3 156.4,284.4 154.0,287.4 153.1,288.9 151.9,290.2 149.2,293.9 147.8,296.1 143.7,301.1 141.4,304.1 139.7,306.9 137.6,309.6 133.4,313.9 130.1,316.5 128.9,317.1ZM124.9,312.2 118.6,312.2 114.9,311.6 108.1,309.5 104.8,307.9 102.1,306.2 96.4,303.0 94.6,302.5 86.1,299.2 83.1,298.2 80.4,296.9 79.0,295.9 77.1,293.3 76.4,291.8 75.6,289.7 74.7,286.1 74.9,283.6 74.3,280.1 72.4,272.1 72.1,269.9 70.2,263.4 69.9,260.9 69.9,256.6 70.1,255.4 70.1,253.1 70.6,250.6 70.6,247.9 71.1,245.4 71.1,240.4 70.8,238.1 71.1,236.6 71.1,233.4 71.3,232.4 71.4,230.1 72.5,227.1 72.9,226.5 74.1,225.3 77.1,223.6 78.4,223.3 82.1,222.2 84.9,221.8 86.6,221.2 91.3,220.4 94.1,220.3 96.9,219.6 101.1,219.3 104.4,218.6 109.6,218.3 113.6,217.6 116.6,217.5 121.1,216.8 123.9,216.8 125.1,216.6 127.6,216.6 128.6,216.3 132.6,216.3 134.6,216.6 136.1,216.9 140.4,218.3 143.9,218.9 148.4,220.3 155.6,221.4 157.6,222.0 161.9,223.0 165.1,224.1 170.4,226.6 172.6,228.4 174.4,230.2 175.4,231.6 176.9,234.1 179.2,238.9 180.4,240.6 184.2,248.6 185.6,251.9 186.9,255.9 187.7,259.4 188.2,263.1 188.2,266.6 187.4,269.6 186.0,272.1 181.4,275.4 178.1,276.9 174.4,278.0 173.4,278.1 171.1,278.7 169.9,278.8 167.9,279.4 165.6,279.4 161.6,279.9 158.6,281.4 156.1,283.5 152.9,286.9 152.1,287.9 150.7,289.1 149.1,291.1 147.5,292.9 146.1,294.9 145.1,295.7 140.8,300.1 135.1,307.0 131.1,310.1 128.4,311.6 124.9,312.2ZM122.6,300.9 120.1,301.0 116.9,300.8 112.6,299.9 109.6,299.0 91.7,291.4 86.9,289.0 86.0,288.4 85.6,287.9 84.6,285.4 84.0,282.1 81.4,271.6 77.8,262.1 77.0,258.1 76.7,249.1 77.2,234.9 77.9,231.1 78.4,230.3 79.6,229.3 83.1,227.6 89.1,225.5 92.4,224.7 94.9,224.4 97.6,223.8 105.4,222.4 114.9,221.2 122.1,220.7 129.9,220.7 131.6,220.9 134.9,221.5 142.6,223.3 154.6,226.3 160.6,228.3 162.9,229.3 167.6,231.8 169.7,233.6 171.4,235.9 176.1,244.6 178.1,250.4 179.1,254.1 179.6,257.9 179.7,260.6 179.5,264.6 178.9,266.3 175.9,268.7 172.9,270.2 166.4,272.7 159.4,274.4 154.0,277.1 149.4,280.4 144.9,284.0 139.1,289.6 131.1,296.0 128.4,298.4 125.4,300.2 124.4,300.6 122.6,300.9ZM120.4,289.4 117.4,289.5 115.9,289.4 110.6,288.5 106.1,287.2 100.4,285.1 98.4,284.1 95.9,282.6 94.1,281.1 92.9,278.9 91.6,275.1 90.6,271.6 90.1,268.9 88.6,265.6 85.8,260.9 84.9,258.6 84.3,256.4 83.2,249.9 82.9,246.1 83.2,240.9 83.2,237.1 83.6,235.4 84.0,234.6 85.7,232.9 88.9,230.9 92.4,229.5 108.9,225.9 115.4,224.9 121.6,224.7 126.1,225.0 130.9,225.6 137.1,226.8 147.6,229.5 150.9,230.4 156.4,232.5 161.4,235.1 164.9,237.5 166.7,239.6 168.5,242.4 170.6,246.6 171.2,248.6 172.0,254.1 171.7,257.6 171.1,259.9 170.6,261.4 168.4,263.1 165.1,265.1 151.6,270.7 146.6,273.3 139.3,277.9 134.1,282.0 130.6,284.3 125.1,287.2 120.4,289.4ZM115.6,278.9 111.4,278.9 107.9,278.2 103.1,276.4 101.9,275.5 100.8,274.1 99.4,270.6 98.7,265.6 95.6,260.6 92.5,256.6 91.1,253.7 89.4,248.1 88.9,245.4 89.6,241.1 89.4,238.1 90.3,236.4 91.9,235.0 93.6,234.1 96.1,233.2 101.1,232.0 104.5,230.9 105.9,230.7 109.9,229.6 116.4,228.6 120.6,228.6 122.9,228.8 124.9,229.1 134.6,231.2 136.4,231.3 139.2,232.1 145.4,233.5 148.9,234.7 153.4,236.9 154.9,237.7 159.3,240.6 162.3,243.4 163.7,245.4 165.2,248.6 165.5,250.1 165.5,252.4 164.9,254.4 164.0,256.1 163.0,257.4 161.0,259.1 157.6,261.2 155.9,262.1 150.6,264.3 149.1,264.7 147.1,265.7 144.1,266.8 141.2,268.1 135.2,271.1 129.9,274.6 127.9,275.4 126.9,276.0 122.4,277.6 119.4,278.3 115.6,278.9ZM113.9,275.1 112.9,275.3 109.9,275.0 108.1,274.7 105.1,273.8 104.1,273.2 103.3,272.4 102.7,271.1 102.3,269.9 102.3,268.6 102.7,266.6 106.1,261.1 106.7,259.4 107.1,255.4 106.2,252.1 105.3,249.9 104.9,247.4 105.0,244.6 105.5,241.9 106.0,240.4 107.1,238.1 108.3,236.9 109.9,236.0 112.6,235.2 123.6,234.3 126.4,234.4 127.6,234.2 132.4,234.4 138.1,235.4 140.1,235.5 142.6,236.0 144.6,236.1 147.9,237.3 153.4,240.6 156.4,243.1 158.2,245.4 159.3,247.4 159.8,249.4 160.0,251.1 159.9,252.2 158.0,255.4 156.6,256.6 153.6,258.7 146.5,262.9 142.1,265.0 139.1,266.8 131.4,270.6 128.4,271.9 126.9,272.4 119.4,274.3 113.9,275.1ZM134.6,264.4 132.4,264.2 127.9,262.7 122.1,259.5 119.8,257.4 118.5,255.6 117.8,252.9 117.8,249.6 118.3,247.4 119.0,246.4 119.9,245.9 121.1,245.5 123.6,245.4 127.4,246.6 132.4,247.2 136.6,248.2 138.6,249.0 140.1,250.2 140.7,251.4 141.3,253.9 141.0,257.1 140.6,258.6 139.7,260.4 137.8,262.9 136.1,264.2 134.6,264.4ZM235.5,299.0 234.8,298.1 233.7,296.9 232.5,295.4 231.3,293.9 230.0,292.3 229.0,291.0 228.1,289.8 227.4,288.7 226.7,287.6 226.0,286.5 225.3,285.5 224.5,284.5 223.7,283.5 222.8,282.5 221.8,281.6 220.9,280.7 220.2,279.8 219.5,279.0 219.0,278.3 218.6,277.6 218.4,277.0 218.1,276.4 217.9,275.7 217.7,275.0 217.4,274.1 217.1,273.2 216.8,272.1 216.6,271.2 216.4,270.2 216.4,269.5 216.5,268.9 216.7,268.4 217.0,268.0 217.3,267.7 217.6,267.4 218.0,267.2 218.3,267.0 218.6,266.9 218.9,266.8 219.3,266.7 219.8,266.7 220.5,266.8 221.3,266.9 222.3,266.9 223.4,267.1 224.6,267.3 225.9,267.6 227.3,268.2 228.9,269.0 230.6,270.1 232.5,271.3 234.4,272.5 236.3,273.8 238.2,275.0 240.0,276.1 241.8,277.2 243.6,278.3 245.4,279.4 247.2,280.6 249.0,281.8 250.9,283.1 252.8,284.4 254.7,285.8 256.5,287.2 258.3,288.6 260.0,290.0 261.6,291.4 263.1,292.8 264.5,294.2 265.9,295.6 267.1,296.8 268.2,298.0 269.1,299.1 269.9,300.1 270.6,301.0 271.2,301.8 271.6,302.5 272.0,303.0" fill="none" stroke="#1a1a1a" stroke-width="0.95"/>
<path d="M164.5,323.1 165.8,322.6 166.7,321.6 167.3,320.1 167.0,318.1 168.2,315.9 169.5,314.1 171.6,312.4 174.9,310.9 177.6,309.9 180.1,309.8 181.6,310.4 184.1,311.1 185.4,310.9 186.6,310.4 187.7,309.4 188.5,306.6 189.6,305.2 190.6,304.5 193.4,303.6 194.3,302.6 194.6,301.4 194.3,300.1 191.1,297.1 189.8,295.1 187.6,292.4 185.6,291.2 184.1,291.0 179.4,292.0 173.6,291.4 172.6,291.1 170.1,290.3 166.4,288.6 165.3,287.9 163.1,285.3 162.6,285.0 161.9,285.1 161.1,285.8 160.1,287.4 158.8,290.9 158.0,295.6 157.7,301.4 157.5,302.1 157.5,304.6 157.2,306.4 156.8,307.4 156.0,308.1 154.6,309.0 153.1,309.1 151.6,309.8 148.1,310.6 146.1,310.6 144.4,311.3 139.1,312.4 138.1,313.1 138.0,313.4 138.2,314.1 139.4,315.0 142.9,315.8 145.1,316.1 149.7,316.1 153.1,315.7 154.9,315.6 157.1,314.9 159.4,315.0 159.8,315.6 159.9,318.5 161.0,321.6 161.9,322.5 162.6,322.9 163.6,323.2 164.5,323.1ZM211.0,311.6 212.5,311.1 213.8,310.4 214.9,309.4 215.5,308.4 216.0,307.1 216.1,305.9 215.8,304.6 215.3,303.6 214.4,302.5 213.2,301.6 211.9,301.0 210.4,300.6 208.6,300.5 207.1,300.7 205.6,301.2 204.4,301.9 202.9,303.4 202.1,305.1 202.0,307.1 202.8,308.9 204.2,310.4 206.4,311.5 208.6,311.9 211.0,311.6Z" fill="#fdb23a" fill-rule="evenodd"/>
<path d="M173.8,309.1 175.9,308.6 176.4,308.3 177.6,307.1 179.0,304.6 179.3,303.9 179.3,300.9 178.8,299.1 176.1,296.2 172.1,293.8 165.9,291.9 164.4,291.9 162.9,292.5 162.5,292.9 161.7,294.4 161.4,296.9 161.4,299.9 161.4,301.1 161.7,302.4 162.9,305.9 164.4,307.6 166.1,308.5 169.4,309.3 173.8,309.1ZM209.7,306.9 210.1,306.1 209.6,305.5 208.6,305.4 208.0,305.9 207.9,306.4 208.4,306.9 209.1,307.1 209.7,306.9ZM164.4,321.1 165.2,320.4 165.2,319.4 164.6,318.6 164.1,318.4 163.4,318.5 162.6,319.2 162.5,319.9 162.6,320.4 163.4,321.1 164.4,321.1Z" fill="#fd7124" fill-rule="evenodd"/>
<path d="M172.2,306.4 173.1,306.1 173.7,305.6 174.6,304.4 174.9,303.6 175.1,301.9 173.6,299.1 170.1,295.7 168.9,294.9 165.9,293.7 164.1,293.7 163.1,294.9 162.9,297.4 163.0,299.6 164.0,302.9 164.9,304.1 166.1,305.1 168.1,306.1 169.9,306.4 172.2,306.4Z" fill="#fb1414" fill-rule="evenodd"/>
<ellipse cx="165.8" cy="296.8" rx="3.0" ry="2.6" fill="#5e1608" opacity="0.85"/>
<ellipse cx="163.9" cy="319.8" rx="1.6" ry="1.6" fill="#5e1608" opacity="0.85"/>
<path d="M164.5,323.1 165.8,322.6 166.7,321.6 167.3,320.1 167.0,318.1 168.2,315.9 169.5,314.1 171.6,312.4 172.5,311.9 174.1,311.3 174.9,310.9 177.6,309.9 180.1,309.8 181.6,310.4 184.1,311.1 185.4,310.9 186.6,310.4 187.7,309.4 188.5,306.6 188.9,305.9 189.6,305.2 190.6,304.5 193.4,303.6 194.3,302.6 194.6,301.9 194.6,301.4 194.6,300.9 194.3,300.1 191.1,297.1 189.8,295.1 187.6,292.4 185.6,291.2 184.1,291.0 179.4,292.0 176.1,291.7 175.4,291.5 173.6,291.4 172.6,291.1 170.1,290.3 166.4,288.6 165.3,287.9 163.1,285.3 162.6,285.0 161.9,285.1 161.1,285.8 160.1,287.4 158.8,290.9 158.0,295.6 157.7,301.4 157.5,302.1 157.5,304.6 157.2,306.4 156.8,307.4 156.0,308.1 154.6,309.0 153.1,309.1 151.6,309.8 148.1,310.6 146.1,310.6 144.4,311.3 139.1,312.4 138.1,313.1 138.0,313.4 138.2,314.1 139.4,315.0 140.4,315.1 142.9,315.8 145.1,316.1 149.7,316.1 150.6,315.9 152.4,315.9 153.1,315.7 154.9,315.6 157.1,314.9 159.4,315.0 159.8,315.6 159.9,318.5 161.0,321.6 161.9,322.5 162.6,322.9 163.6,323.2 164.5,323.1ZM211.0,311.6 212.5,311.1 213.8,310.4 214.9,309.4 215.5,308.4 216.0,307.1 216.1,305.9 215.8,304.6 215.3,303.6 214.4,302.5 213.2,301.6 211.9,301.0 210.4,300.6 208.6,300.5 207.1,300.7 205.6,301.2 204.4,301.9 202.9,303.4 202.1,305.1 202.0,307.1 202.8,308.9 204.2,310.4 206.4,311.5 208.6,311.9 211.0,311.6ZM164.4,312.9 171.6,310.6 173.6,310.2 176.4,309.4 179.0,308.1 180.9,307.1 183.6,305.9 185.5,300.4 184.9,298.6 183.9,296.9 177.1,294.1 169.6,291.7 166.6,290.5 162.9,289.5 162.4,289.7 160.9,291.6 160.1,294.1 159.8,296.6 159.7,302.9 160.6,310.4 163.9,312.8 164.4,312.9ZM209.7,309.6 211.4,309.1 212.6,308.1 213.3,306.6 213.1,305.1 212.2,303.9 210.6,303.0 208.6,302.7 206.9,303.2 205.8,303.9 205.0,304.9 204.7,306.1 204.9,307.4 205.6,308.4 206.9,309.2 208.3,309.6 209.7,309.6ZM164.7,322.1 165.5,321.6 166.1,320.9 166.3,320.1 166.3,319.1 165.9,318.3 165.0,317.6 164.1,317.4 163.1,317.5 162.4,317.9 161.7,318.6 161.5,319.6 161.6,320.6 162.1,321.5 162.9,322.0 163.9,322.3 164.7,322.1ZM173.8,309.1 175.9,308.6 176.4,308.3 177.6,307.1 179.0,304.6 179.3,303.9 179.3,300.9 178.8,299.1 177.6,297.6 176.1,296.2 172.1,293.8 165.9,291.9 164.4,291.9 162.9,292.5 162.5,292.9 161.7,294.4 161.4,296.9 161.4,299.9 161.4,301.1 161.7,302.4 162.9,305.9 164.4,307.6 165.4,308.3 166.1,308.5 169.4,309.3 173.8,309.1ZM209.7,306.9 210.0,306.6 210.1,306.1 209.6,305.5 208.6,305.4 208.0,305.9 207.9,306.4 208.4,306.9 209.1,307.1 209.7,306.9ZM164.4,321.1 165.2,320.4 165.2,319.4 164.6,318.6 164.1,318.4 163.4,318.5 162.6,319.2 162.5,319.9 162.6,320.4 163.4,321.1 164.4,321.1ZM171.4,307.9 172.9,307.8 174.1,307.4 175.2,306.9 175.9,306.1 176.7,304.6 177.1,303.4 177.2,301.6 176.9,300.4 175.1,297.9 172.1,295.5 170.6,294.5 167.9,293.3 166.1,292.8 164.9,292.8 163.6,293.0 162.9,293.7 162.3,294.6 162.1,297.6 162.3,300.9 162.8,302.6 163.6,304.4 164.3,305.4 165.9,306.8 167.6,307.4 169.6,307.8 171.4,307.9ZM172.2,306.4 173.1,306.1 173.7,305.6 174.6,304.4 174.9,303.6 175.1,301.9 173.6,299.1 170.1,295.7 168.9,294.9 165.9,293.7 164.1,293.7 163.1,294.9 162.9,297.4 163.0,299.6 164.0,302.9 164.9,304.1 166.1,305.1 168.1,306.1 169.9,306.4 172.2,306.4ZM171.4,303.4 171.9,302.9 171.9,302.4 170.9,300.6 168.1,297.9 166.6,297.0 165.9,297.0 165.8,298.9 166.4,301.0 166.9,301.8 167.9,302.6 168.9,303.1 170.6,303.5 171.4,303.4Z" fill="none" stroke="#1a1a1a" stroke-width="0.95"/>
</g>
<circle cx="98.4" cy="244.5" r="2.4" fill="#f2b24a" stroke="#222" stroke-width="0.7"/>
<circle cx="88.2" cy="261.4" r="2.4" fill="#f7d26a" stroke="#222" stroke-width="0.7"/>
<circle cx="102.6" cy="262.2" r="1.3" fill="#f08030" stroke="#444" stroke-width="0.7"/>
<circle cx="120.2" cy="267.8" r="1.7" fill="#f0a040" stroke="#222" stroke-width="0.7"/>
<circle cx="121.2" cy="284.4" r="1.3" fill="#f08030" stroke="#444" stroke-width="0.7"/>
<circle cx="102.7" cy="293.6" r="2.3" fill="#e07020" stroke="#222" stroke-width="0.7"/>
<circle cx="102.7" cy="293.6" r="0.9" fill="#c02010" stroke="none"/>
<text x="96.5" y="230.3" font-size="5.0" fill="#333">1.6</text>
<text x="125" y="245" font-size="5.0" fill="#333">2</text>
<text x="112" y="258" font-size="4.8" fill="#333" transform="rotate(-60 112 258)">1.8</text>
<text x="154" y="269.5" font-size="4.6" fill="#333" transform="rotate(-30 154 269.5)">1.4</text>
<text x="133" y="330" font-size="5.0" fill="#333">0.4</text>
<text x="147" y="335" font-size="5.0" fill="#333">0.2</text>
<text x="180.5" y="334" font-size="4.8" fill="#333">0.6</text>
<text x="193" y="328" font-size="4.6" fill="#333" transform="rotate(-20 193 328)">0.6</text>
<text x="190.5" y="283.5" font-size="4.8" fill="#333">0.4</text>
<text x="206" y="286" font-size="4.6" fill="#333" transform="rotate(-10 206 286)">0.6</text>
<text x="231" y="290" font-size="4.6" fill="#333" transform="rotate(-40 231 290)">1</text>
<text x="319.5" y="204.6" font-size="10.6" text-anchor="middle" fill="#222">N</text>
<circle cx="319.5" cy="227.3" r="13.8" fill="#fff" stroke="#111" stroke-width="1.9"/>
<circle cx="319.5" cy="227.3" r="11.5" fill="none" stroke="#c8c8c8" stroke-width="0.6"/>
<linearGradient id="ng2" gradientUnits="userSpaceOnUse" x1="305.6" y1="0" x2="319.5" y2="0"><stop offset="0" stop-color="#b4b4b4"/><stop offset="1" stop-color="#ececec"/></linearGradient>
<polygon points="319.5,206.5 305.6,240.9 319.5,227.8" fill="url(#ng2)"/>
<polygon points="319.5,206.5 333.4,240.9 319.5,227.8" fill="#fff"/>
<polygon points="319.5,206.5 333.4,240.9 319.5,227.8 305.6,240.9" fill="none" stroke="#808080" stroke-width="0.7" stroke-linejoin="miter"/>
<rect x="266" y="359.4" width="48.69999999999999" height="4.2000000000000455" fill="#fff" stroke="#777" stroke-width="0.8"/>
<rect x="217" y="359.4" width="49" height="4.2000000000000455" fill="#000"/>
<text x="215.2" y="355.4" font-size="7.6" fill="#111">0</text>
<text x="260" y="355.4" font-size="7.6" fill="#111">2.5</text>
<text x="312.8" y="355.4" font-size="7.6" fill="#111">5 km</text>
<text x="20.5" y="359" font-size="10" font-weight="bold" font-style="italic">(b)</text>
<clipPath id="clipM"><rect x="341" y="296.5" width="193.5" height="71.3"/></clipPath><g clip-path="url(#clipM)">
<path d="M342.5,302.5 344.0,301.5 345.5,302.8 347.0,302.0M385.9,296.2 388.0,297.5 389.0,304.5 388.0,310.7 390.0,312.8 394.3,312.8 398.4,310.7 400.5,304.5 401.5,296.2M340.5,333.7 345.0,334.0 350.5,334.7 356.8,335.8 363.0,333.7 369.3,331.6 375.5,332.6 381.8,332.6 388.0,333.7 392.0,331.6 398.4,329.5 402.6,330.5 405.7,331.6 406.8,333.7 408.8,335.8 411.0,332.6 414.0,331.6 415.0,333.7 413.0,337.8 411.0,342.0 412.0,346.0 415.0,352.4 417.0,354.5 414.0,358.7 411.0,362.8 410.0,368.0M387.0,334.5 388.0,342.0 387.0,350.0 383.8,358.7 380.7,363.9 379.7,368.0M429.1,322.7 431.7,321.4 435.6,320.7 439.5,321.4 444.7,322.0 450.0,321.4 455.2,320.7 459.0,320.1 461.0,320.1 459.7,322.0 458.4,324.6 457.1,327.9 456.5,330.5 457.1,333.1 455.2,335.1 451.3,335.1 446.0,332.5 442.1,331.2 436.9,328.6 433.0,326.6 429.8,324.6 429.1,322.7M453.2,296.0 454.5,299.9 457.8,302.5 460.4,305.1 462.3,309.0 464.9,312.3 466.2,314.9 464.9,317.5 462.3,320.1 461.3,321.6 461.7,322.4 464.3,322.7 466.9,320.1 468.8,318.1 472.1,315.5 476.0,312.9 476.6,309.0 473.4,306.4 470.8,303.8 470.1,301.2 472.1,298.6 474.7,297.3 477.3,296.7M475.0,297.3 480.2,298.0 484.1,299.3 487.4,301.2 488.7,303.2 487.4,304.5 484.8,303.2 481.5,300.6 477.6,299.3M498.4,296.0 499.1,298.6 501.0,301.2 503.0,303.8 505.6,306.4 508.2,309.0 510.2,311.6 512.8,312.3 514.0,313.6 512.1,314.9 510.8,316.8 509.5,320.1 510.8,322.0 512.8,324.0 514.0,326.0 516.7,324.6 519.3,327.2 520.6,329.9 521.9,333.8 523.2,335.1 525.8,333.8 527.7,335.7 529.7,337.7 532.3,335.1 533.6,332.5 535.0,331.0M514.0,320.1 519.3,319.4 524.5,318.8 529.7,320.1 535.0,321.4M505.0,296.0 507.0,298.5 510.0,297.5 513.0,296.0M529.7,296.0 529.7,298.6 532.3,302.5 535.0,303.8" fill="none" stroke="#5a5a5a" stroke-width="0.75" stroke-linejoin="round"/>
<circle cx="453.8" cy="317.5" r="0.7" fill="#777"/>
<circle cx="424.6" cy="323.3" r="0.5" fill="#777"/>
<circle cx="425.2" cy="334.4" r="0.6" fill="#777"/>
<circle cx="423.4" cy="334.7" r="0.4" fill="#777"/>
<circle cx="427.6" cy="323.2" r="0.4" fill="#777"/>
</g>
<line x1="447.5" y1="342.4" x2="451" y2="345.6" stroke="#555" stroke-width="0.8"/>
<circle cx="444.7" cy="339.7" r="3.7" fill="#f00"/>
<text x="453.5" y="351.4" font-size="9.2" font-weight="bold" font-style="italic" fill="#111">Malta</text>
</svg>
</body></html>
